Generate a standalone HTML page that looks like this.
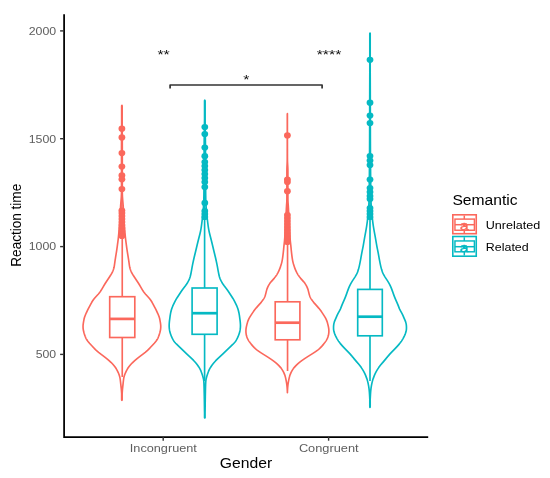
<!DOCTYPE html>
<html><head><meta charset="utf-8"><title>Reaction time by Gender and Semantic</title>
<style>html,body{margin:0;padding:0;background:#fff;}svg{display:block;}</style></head>
<body><svg width="550" height="478" viewBox="0 0 550 478" font-family="'Liberation Sans', sans-serif">
<rect width="550" height="478" fill="#fff"/>
<g><path d="M121.90,105.3 L122.15,105.8 L122.15,106.3 L122.15,106.8 L122.15,107.3 L122.15,107.8 L122.15,108.3 L122.15,108.8 L122.15,109.3 L122.15,109.8 L122.15,110.3 L122.15,110.8 L122.15,111.3 L122.15,111.8 L122.15,112.3 L122.15,112.8 L122.15,113.3 L122.15,113.8 L122.15,114.3 L122.15,114.8 L122.15,115.3 L122.15,115.8 L122.15,116.3 L122.15,116.8 L122.15,117.3 L122.15,117.8 L122.15,118.3 L122.15,118.8 L122.15,119.3 L122.15,119.8 L122.15,120.3 L122.15,120.8 L122.15,121.3 L122.15,121.8 L122.15,122.3 L122.15,122.8 L122.15,123.3 L122.15,123.8 L122.15,124.3 L122.15,124.8 L122.15,125.3 L122.16,125.8 L122.16,126.3 L122.17,126.8 L122.17,127.3 L122.18,127.8 L122.18,128.3 L122.19,128.8 L122.19,129.3 L122.20,129.8 L122.20,130.3 L122.21,130.8 L122.21,131.3 L122.21,131.8 L122.22,132.3 L122.22,132.8 L122.23,133.3 L122.23,133.8 L122.23,134.3 L122.24,134.8 L122.24,135.3 L122.25,135.8 L122.25,136.3 L122.25,136.8 L122.26,137.3 L122.26,137.8 L122.26,138.3 L122.27,138.8 L122.27,139.3 L122.27,139.8 L122.27,140.3 L122.28,140.8 L122.28,141.3 L122.28,141.8 L122.28,142.3 L122.28,142.8 L122.29,143.3 L122.29,143.8 L122.29,144.3 L122.29,144.8 L122.29,145.3 L122.29,145.8 L122.30,146.3 L122.30,146.8 L122.30,147.3 L122.30,147.8 L122.30,148.3 L122.30,148.8 L122.30,149.3 L122.30,149.8 L122.30,150.3 L122.30,150.8 L122.30,151.3 L122.30,151.8 L122.30,152.3 L122.30,152.8 L122.30,153.3 L122.30,153.8 L122.30,154.3 L122.30,154.8 L122.30,155.3 L122.30,155.8 L122.30,156.3 L122.30,156.8 L122.30,157.3 L122.30,157.8 L122.30,158.3 L122.30,158.8 L122.30,159.3 L122.30,159.8 L122.30,160.3 L122.30,160.8 L122.30,161.3 L122.30,161.8 L122.30,162.3 L122.30,162.8 L122.30,163.3 L122.30,163.8 L122.30,164.3 L122.30,164.8 L122.30,165.3 L122.30,165.8 L122.30,166.3 L122.30,166.8 L122.30,167.3 L122.30,167.8 L122.30,168.3 L122.30,168.8 L122.30,169.3 L122.30,169.8 L122.30,170.3 L122.30,170.8 L122.30,171.3 L122.30,171.8 L122.30,172.3 L122.30,172.8 L122.30,173.3 L122.30,173.8 L122.30,174.3 L122.30,174.8 L122.30,175.3 L122.30,175.8 L122.30,176.3 L122.30,176.8 L122.30,177.3 L122.30,177.8 L122.30,178.3 L122.30,178.8 L122.30,179.3 L122.30,179.8 L122.30,180.3 L122.30,180.8 L122.30,181.3 L122.30,181.8 L122.30,182.3 L122.30,182.8 L122.30,183.3 L122.30,183.8 L122.30,184.3 L122.30,184.8 L122.30,185.3 L122.30,185.8 L122.30,186.3 L122.30,186.8 L122.30,187.3 L122.30,187.8 L122.30,188.3 L122.30,188.8 L122.30,189.3 L122.30,189.8 L122.30,190.3 L122.31,190.8 L122.31,191.3 L122.31,191.8 L122.32,192.3 L122.32,192.8 L122.33,193.3 L122.34,193.8 L122.35,194.3 L122.37,194.8 L122.39,195.3 L122.41,195.8 L122.43,196.3 L122.46,196.8 L122.49,197.3 L122.53,197.8 L122.56,198.3 L122.60,198.8 L122.64,199.3 L122.68,199.8 L122.73,200.3 L122.77,200.8 L122.81,201.3 L122.85,201.8 L122.90,202.3 L122.94,202.8 L122.98,203.3 L123.02,203.8 L123.06,204.3 L123.10,204.8 L123.14,205.3 L123.17,205.8 L123.21,206.3 L123.24,206.8 L123.27,207.3 L123.30,207.8 L123.33,208.3 L123.35,208.8 L123.38,209.3 L123.41,209.8 L123.43,210.3 L123.45,210.8 L123.48,211.3 L123.50,211.8 L123.52,212.3 L123.54,212.8 L123.57,213.3 L123.59,213.8 L123.61,214.3 L123.63,214.8 L123.66,215.3 L123.68,215.8 L123.70,216.3 L123.73,216.8 L123.75,217.3 L123.78,217.8 L123.81,218.3 L123.84,218.8 L123.87,219.3 L123.90,219.8 L123.93,220.3 L123.96,220.8 L123.99,221.3 L124.03,221.8 L124.06,222.3 L124.10,222.8 L124.14,223.3 L124.18,223.8 L124.21,224.3 L124.25,224.8 L124.30,225.3 L124.34,225.8 L124.38,226.3 L124.42,226.8 L124.46,227.3 L124.51,227.8 L124.55,228.3 L124.59,228.8 L124.64,229.3 L124.68,229.8 L124.73,230.3 L124.77,230.8 L124.82,231.3 L124.86,231.8 L124.91,232.3 L124.96,232.8 L125.00,233.3 L125.05,233.8 L125.10,234.3 L125.15,234.8 L125.20,235.3 L125.25,235.8 L125.30,236.3 L125.35,236.8 L125.40,237.3 L125.46,237.8 L125.51,238.3 L125.57,238.8 L125.63,239.3 L125.69,239.8 L125.75,240.3 L125.81,240.8 L125.88,241.3 L125.94,241.8 L126.01,242.3 L126.08,242.8 L126.15,243.3 L126.21,243.8 L126.28,244.3 L126.35,244.8 L126.41,245.3 L126.48,245.8 L126.55,246.3 L126.61,246.8 L126.68,247.3 L126.75,247.8 L126.82,248.3 L126.89,248.8 L126.96,249.3 L127.04,249.8 L127.11,250.3 L127.19,250.8 L127.26,251.3 L127.34,251.8 L127.42,252.3 L127.50,252.8 L127.58,253.3 L127.66,253.8 L127.74,254.3 L127.82,254.8 L127.91,255.3 L127.99,255.8 L128.07,256.3 L128.15,256.8 L128.23,257.3 L128.30,257.8 L128.38,258.3 L128.46,258.8 L128.54,259.3 L128.62,259.8 L128.70,260.3 L128.77,260.8 L128.84,261.3 L128.92,261.8 L128.98,262.3 L129.05,262.8 L129.12,263.3 L129.19,263.8 L129.26,264.3 L129.32,264.8 L129.40,265.3 L129.48,265.8 L129.56,266.3 L129.65,266.8 L129.75,267.3 L129.87,267.8 L129.99,268.3 L130.13,268.8 L130.28,269.3 L130.45,269.8 L130.63,270.3 L130.84,270.8 L131.05,271.3 L131.29,271.8 L131.54,272.3 L131.80,272.8 L132.07,273.3 L132.35,273.8 L132.64,274.3 L132.94,274.8 L133.24,275.3 L133.55,275.8 L133.86,276.3 L134.18,276.8 L134.50,277.3 L134.83,277.8 L135.16,278.3 L135.49,278.8 L135.82,279.3 L136.15,279.8 L136.48,280.3 L136.82,280.8 L137.15,281.3 L137.48,281.8 L137.81,282.3 L138.14,282.8 L138.46,283.3 L138.78,283.8 L139.09,284.3 L139.40,284.8 L139.71,285.3 L140.01,285.8 L140.32,286.3 L140.62,286.8 L140.91,287.3 L141.21,287.8 L141.50,288.3 L141.79,288.8 L142.08,289.3 L142.38,289.8 L142.68,290.3 L142.99,290.8 L143.31,291.3 L143.65,291.8 L144.01,292.3 L144.39,292.8 L144.79,293.3 L145.20,293.8 L145.63,294.3 L146.08,294.8 L146.53,295.3 L146.99,295.8 L147.45,296.3 L147.91,296.8 L148.36,297.3 L148.80,297.8 L149.23,298.3 L149.64,298.8 L150.03,299.3 L150.41,299.8 L150.76,300.3 L151.10,300.8 L151.43,301.3 L151.74,301.8 L152.05,302.3 L152.34,302.8 L152.62,303.3 L152.90,303.8 L153.17,304.3 L153.44,304.8 L153.70,305.3 L153.96,305.8 L154.23,306.3 L154.50,306.8 L154.77,307.3 L155.04,307.8 L155.31,308.3 L155.57,308.8 L155.82,309.3 L156.07,309.8 L156.31,310.3 L156.55,310.8 L156.78,311.3 L157.01,311.8 L157.24,312.3 L157.46,312.8 L157.68,313.3 L157.89,313.8 L158.10,314.3 L158.31,314.8 L158.51,315.3 L158.70,315.8 L158.90,316.3 L159.08,316.8 L159.25,317.3 L159.41,317.8 L159.55,318.3 L159.68,318.8 L159.79,319.3 L159.89,319.8 L159.99,320.3 L160.08,320.8 L160.17,321.3 L160.26,321.8 L160.34,322.3 L160.42,322.8 L160.49,323.3 L160.56,323.8 L160.62,324.3 L160.67,324.8 L160.71,325.3 L160.74,325.8 L160.75,326.3 L160.75,326.8 L160.74,327.3 L160.72,327.8 L160.68,328.3 L160.63,328.8 L160.56,329.3 L160.48,329.8 L160.39,330.3 L160.29,330.8 L160.18,331.3 L160.06,331.8 L159.94,332.3 L159.80,332.8 L159.67,333.3 L159.52,333.8 L159.37,334.3 L159.21,334.8 L159.04,335.3 L158.86,335.8 L158.67,336.3 L158.46,336.8 L158.25,337.3 L158.02,337.8 L157.78,338.3 L157.52,338.8 L157.24,339.3 L156.95,339.8 L156.63,340.3 L156.30,340.8 L155.94,341.3 L155.56,341.8 L155.15,342.3 L154.73,342.8 L154.30,343.3 L153.85,343.8 L153.39,344.3 L152.92,344.8 L152.45,345.3 L151.98,345.8 L151.50,346.3 L151.02,346.8 L150.55,347.3 L150.06,347.8 L149.58,348.3 L149.08,348.8 L148.57,349.3 L148.05,349.8 L147.52,350.3 L146.96,350.8 L146.39,351.3 L145.80,351.8 L145.20,352.3 L144.57,352.8 L143.93,353.3 L143.28,353.8 L142.62,354.3 L141.95,354.8 L141.28,355.3 L140.62,355.8 L139.96,356.3 L139.31,356.8 L138.66,357.3 L138.03,357.8 L137.40,358.3 L136.79,358.8 L136.19,359.3 L135.60,359.8 L135.02,360.3 L134.46,360.8 L133.92,361.3 L133.39,361.8 L132.87,362.3 L132.37,362.8 L131.89,363.3 L131.42,363.8 L130.97,364.3 L130.53,364.8 L130.11,365.3 L129.70,365.8 L129.30,366.3 L128.91,366.8 L128.54,367.3 L128.18,367.8 L127.84,368.3 L127.52,368.8 L127.22,369.3 L126.94,369.8 L126.66,370.3 L126.40,370.8 L126.16,371.3 L125.92,371.8 L125.70,372.3 L125.48,372.8 L125.27,373.3 L125.07,373.8 L124.89,374.3 L124.70,374.8 L124.53,375.3 L124.37,375.8 L124.22,376.3 L124.07,376.8 L123.94,377.3 L123.83,377.8 L123.73,378.3 L123.65,378.8 L123.58,379.3 L123.51,379.8 L123.45,380.3 L123.39,380.8 L123.33,381.3 L123.28,381.8 L123.22,382.3 L123.17,382.8 L123.12,383.3 L123.06,383.8 L123.01,384.3 L122.96,384.8 L122.90,385.3 L122.85,385.8 L122.79,386.3 L122.73,386.8 L122.68,387.3 L122.62,387.8 L122.57,388.3 L122.52,388.8 L122.48,389.3 L122.43,389.8 L122.39,390.3 L122.35,390.8 L122.32,391.3 L122.28,391.8 L122.25,392.3 L122.21,392.8 L122.18,393.3 L122.15,393.8 L122.15,394.3 L122.15,394.8 L122.15,395.3 L122.15,395.8 L122.15,396.3 L122.15,396.8 L122.15,397.3 L122.15,397.8 L122.15,398.3 L122.15,398.8 L122.15,399.3 L122.15,399.8 L121.90,400.3 L121.90,400.3 L121.65,399.8 L121.65,399.3 L121.65,398.8 L121.65,398.3 L121.65,397.8 L121.65,397.3 L121.65,396.8 L121.65,396.3 L121.65,395.8 L121.65,395.3 L121.65,394.8 L121.65,394.3 L121.65,393.8 L121.62,393.3 L121.59,392.8 L121.55,392.3 L121.52,391.8 L121.48,391.3 L121.45,390.8 L121.41,390.3 L121.37,389.8 L121.32,389.3 L121.28,388.8 L121.23,388.3 L121.18,387.8 L121.12,387.3 L121.07,386.8 L121.01,386.3 L120.95,385.8 L120.90,385.3 L120.84,384.8 L120.79,384.3 L120.74,383.8 L120.68,383.3 L120.63,382.8 L120.58,382.3 L120.52,381.8 L120.47,381.3 L120.41,380.8 L120.35,380.3 L120.29,379.8 L120.22,379.3 L120.15,378.8 L120.07,378.3 L119.97,377.8 L119.86,377.3 L119.73,376.8 L119.58,376.3 L119.43,375.8 L119.27,375.3 L119.10,374.8 L118.91,374.3 L118.73,373.8 L118.53,373.3 L118.32,372.8 L118.10,372.3 L117.88,371.8 L117.64,371.3 L117.40,370.8 L117.14,370.3 L116.86,369.8 L116.58,369.3 L116.28,368.8 L115.96,368.3 L115.62,367.8 L115.26,367.3 L114.89,366.8 L114.50,366.3 L114.10,365.8 L113.69,365.3 L113.27,364.8 L112.83,364.3 L112.38,363.8 L111.91,363.3 L111.43,362.8 L110.93,362.3 L110.41,361.8 L109.88,361.3 L109.34,360.8 L108.78,360.3 L108.20,359.8 L107.61,359.3 L107.01,358.8 L106.40,358.3 L105.77,357.8 L105.14,357.3 L104.49,356.8 L103.84,356.3 L103.18,355.8 L102.52,355.3 L101.85,354.8 L101.18,354.3 L100.52,353.8 L99.87,353.3 L99.23,352.8 L98.60,352.3 L98.00,351.8 L97.41,351.3 L96.84,350.8 L96.28,350.3 L95.75,349.8 L95.23,349.3 L94.72,348.8 L94.22,348.3 L93.74,347.8 L93.25,347.3 L92.78,346.8 L92.30,346.3 L91.82,345.8 L91.35,345.3 L90.88,344.8 L90.41,344.3 L89.95,343.8 L89.50,343.3 L89.07,342.8 L88.65,342.3 L88.24,341.8 L87.86,341.3 L87.50,340.8 L87.17,340.3 L86.85,339.8 L86.56,339.3 L86.28,338.8 L86.02,338.3 L85.78,337.8 L85.55,337.3 L85.34,336.8 L85.13,336.3 L84.94,335.8 L84.76,335.3 L84.59,334.8 L84.43,334.3 L84.28,333.8 L84.13,333.3 L84.00,332.8 L83.86,332.3 L83.74,331.8 L83.62,331.3 L83.51,330.8 L83.41,330.3 L83.32,329.8 L83.24,329.3 L83.17,328.8 L83.12,328.3 L83.08,327.8 L83.06,327.3 L83.05,326.8 L83.05,326.3 L83.06,325.8 L83.09,325.3 L83.13,324.8 L83.18,324.3 L83.24,323.8 L83.31,323.3 L83.38,322.8 L83.46,322.3 L83.54,321.8 L83.63,321.3 L83.72,320.8 L83.81,320.3 L83.91,319.8 L84.01,319.3 L84.12,318.8 L84.25,318.3 L84.39,317.8 L84.55,317.3 L84.72,316.8 L84.90,316.3 L85.10,315.8 L85.29,315.3 L85.49,314.8 L85.70,314.3 L85.91,313.8 L86.12,313.3 L86.34,312.8 L86.56,312.3 L86.79,311.8 L87.02,311.3 L87.25,310.8 L87.49,310.3 L87.73,309.8 L87.98,309.3 L88.23,308.8 L88.49,308.3 L88.76,307.8 L89.03,307.3 L89.30,306.8 L89.57,306.3 L89.84,305.8 L90.10,305.3 L90.36,304.8 L90.63,304.3 L90.90,303.8 L91.18,303.3 L91.46,302.8 L91.75,302.3 L92.06,301.8 L92.37,301.3 L92.70,300.8 L93.04,300.3 L93.39,299.8 L93.77,299.3 L94.16,298.8 L94.57,298.3 L95.00,297.8 L95.44,297.3 L95.89,296.8 L96.35,296.3 L96.81,295.8 L97.27,295.3 L97.72,294.8 L98.17,294.3 L98.60,293.8 L99.01,293.3 L99.41,292.8 L99.79,292.3 L100.15,291.8 L100.49,291.3 L100.81,290.8 L101.12,290.3 L101.42,289.8 L101.72,289.3 L102.01,288.8 L102.30,288.3 L102.59,287.8 L102.89,287.3 L103.18,286.8 L103.48,286.3 L103.79,285.8 L104.09,285.3 L104.40,284.8 L104.71,284.3 L105.02,283.8 L105.34,283.3 L105.66,282.8 L105.99,282.3 L106.32,281.8 L106.65,281.3 L106.98,280.8 L107.32,280.3 L107.65,279.8 L107.98,279.3 L108.31,278.8 L108.64,278.3 L108.97,277.8 L109.30,277.3 L109.62,276.8 L109.94,276.3 L110.25,275.8 L110.56,275.3 L110.86,274.8 L111.16,274.3 L111.45,273.8 L111.73,273.3 L112.00,272.8 L112.26,272.3 L112.51,271.8 L112.75,271.3 L112.96,270.8 L113.17,270.3 L113.35,269.8 L113.52,269.3 L113.67,268.8 L113.81,268.3 L113.93,267.8 L114.05,267.3 L114.15,266.8 L114.24,266.3 L114.32,265.8 L114.40,265.3 L114.48,264.8 L114.54,264.3 L114.61,263.8 L114.68,263.3 L114.75,262.8 L114.82,262.3 L114.88,261.8 L114.96,261.3 L115.03,260.8 L115.10,260.3 L115.18,259.8 L115.26,259.3 L115.34,258.8 L115.42,258.3 L115.50,257.8 L115.57,257.3 L115.65,256.8 L115.73,256.3 L115.81,255.8 L115.89,255.3 L115.98,254.8 L116.06,254.3 L116.14,253.8 L116.22,253.3 L116.30,252.8 L116.38,252.3 L116.46,251.8 L116.54,251.3 L116.61,250.8 L116.69,250.3 L116.76,249.8 L116.84,249.3 L116.91,248.8 L116.98,248.3 L117.05,247.8 L117.12,247.3 L117.19,246.8 L117.25,246.3 L117.32,245.8 L117.39,245.3 L117.45,244.8 L117.52,244.3 L117.59,243.8 L117.65,243.3 L117.72,242.8 L117.79,242.3 L117.86,241.8 L117.92,241.3 L117.99,240.8 L118.05,240.3 L118.11,239.8 L118.17,239.3 L118.23,238.8 L118.29,238.3 L118.34,237.8 L118.40,237.3 L118.45,236.8 L118.50,236.3 L118.55,235.8 L118.60,235.3 L118.65,234.8 L118.70,234.3 L118.75,233.8 L118.80,233.3 L118.84,232.8 L118.89,232.3 L118.94,231.8 L118.98,231.3 L119.03,230.8 L119.07,230.3 L119.12,229.8 L119.16,229.3 L119.21,228.8 L119.25,228.3 L119.29,227.8 L119.34,227.3 L119.38,226.8 L119.42,226.3 L119.46,225.8 L119.50,225.3 L119.55,224.8 L119.59,224.3 L119.62,223.8 L119.66,223.3 L119.70,222.8 L119.74,222.3 L119.77,221.8 L119.81,221.3 L119.84,220.8 L119.87,220.3 L119.90,219.8 L119.93,219.3 L119.96,218.8 L119.99,218.3 L120.02,217.8 L120.05,217.3 L120.07,216.8 L120.10,216.3 L120.12,215.8 L120.14,215.3 L120.17,214.8 L120.19,214.3 L120.21,213.8 L120.23,213.3 L120.26,212.8 L120.28,212.3 L120.30,211.8 L120.32,211.3 L120.35,210.8 L120.37,210.3 L120.39,209.8 L120.42,209.3 L120.45,208.8 L120.47,208.3 L120.50,207.8 L120.53,207.3 L120.56,206.8 L120.59,206.3 L120.63,205.8 L120.66,205.3 L120.70,204.8 L120.74,204.3 L120.78,203.8 L120.82,203.3 L120.86,202.8 L120.90,202.3 L120.95,201.8 L120.99,201.3 L121.03,200.8 L121.07,200.3 L121.12,199.8 L121.16,199.3 L121.20,198.8 L121.24,198.3 L121.27,197.8 L121.31,197.3 L121.34,196.8 L121.37,196.3 L121.39,195.8 L121.41,195.3 L121.43,194.8 L121.45,194.3 L121.46,193.8 L121.47,193.3 L121.48,192.8 L121.48,192.3 L121.49,191.8 L121.49,191.3 L121.49,190.8 L121.50,190.3 L121.50,189.8 L121.50,189.3 L121.50,188.8 L121.50,188.3 L121.50,187.8 L121.50,187.3 L121.50,186.8 L121.50,186.3 L121.50,185.8 L121.50,185.3 L121.50,184.8 L121.50,184.3 L121.50,183.8 L121.50,183.3 L121.50,182.8 L121.50,182.3 L121.50,181.8 L121.50,181.3 L121.50,180.8 L121.50,180.3 L121.50,179.8 L121.50,179.3 L121.50,178.8 L121.50,178.3 L121.50,177.8 L121.50,177.3 L121.50,176.8 L121.50,176.3 L121.50,175.8 L121.50,175.3 L121.50,174.8 L121.50,174.3 L121.50,173.8 L121.50,173.3 L121.50,172.8 L121.50,172.3 L121.50,171.8 L121.50,171.3 L121.50,170.8 L121.50,170.3 L121.50,169.8 L121.50,169.3 L121.50,168.8 L121.50,168.3 L121.50,167.8 L121.50,167.3 L121.50,166.8 L121.50,166.3 L121.50,165.8 L121.50,165.3 L121.50,164.8 L121.50,164.3 L121.50,163.8 L121.50,163.3 L121.50,162.8 L121.50,162.3 L121.50,161.8 L121.50,161.3 L121.50,160.8 L121.50,160.3 L121.50,159.8 L121.50,159.3 L121.50,158.8 L121.50,158.3 L121.50,157.8 L121.50,157.3 L121.50,156.8 L121.50,156.3 L121.50,155.8 L121.50,155.3 L121.50,154.8 L121.50,154.3 L121.50,153.8 L121.50,153.3 L121.50,152.8 L121.50,152.3 L121.50,151.8 L121.50,151.3 L121.50,150.8 L121.50,150.3 L121.50,149.8 L121.50,149.3 L121.50,148.8 L121.50,148.3 L121.50,147.8 L121.50,147.3 L121.50,146.8 L121.50,146.3 L121.51,145.8 L121.51,145.3 L121.51,144.8 L121.51,144.3 L121.51,143.8 L121.51,143.3 L121.52,142.8 L121.52,142.3 L121.52,141.8 L121.52,141.3 L121.52,140.8 L121.53,140.3 L121.53,139.8 L121.53,139.3 L121.53,138.8 L121.54,138.3 L121.54,137.8 L121.54,137.3 L121.55,136.8 L121.55,136.3 L121.55,135.8 L121.56,135.3 L121.56,134.8 L121.57,134.3 L121.57,133.8 L121.57,133.3 L121.58,132.8 L121.58,132.3 L121.59,131.8 L121.59,131.3 L121.59,130.8 L121.60,130.3 L121.60,129.8 L121.61,129.3 L121.61,128.8 L121.62,128.3 L121.62,127.8 L121.63,127.3 L121.63,126.8 L121.64,126.3 L121.64,125.8 L121.65,125.3 L121.65,124.8 L121.65,124.3 L121.65,123.8 L121.65,123.3 L121.65,122.8 L121.65,122.3 L121.65,121.8 L121.65,121.3 L121.65,120.8 L121.65,120.3 L121.65,119.8 L121.65,119.3 L121.65,118.8 L121.65,118.3 L121.65,117.8 L121.65,117.3 L121.65,116.8 L121.65,116.3 L121.65,115.8 L121.65,115.3 L121.65,114.8 L121.65,114.3 L121.65,113.8 L121.65,113.3 L121.65,112.8 L121.65,112.3 L121.65,111.8 L121.65,111.3 L121.65,110.8 L121.65,110.3 L121.65,109.8 L121.65,109.3 L121.65,108.8 L121.65,108.3 L121.65,107.8 L121.65,107.3 L121.65,106.8 L121.65,106.3 L121.65,105.8 L121.90,105.3Z" fill="none" stroke="#FB685C" stroke-width="1.65" stroke-linejoin="round"/><path d="M121.9,105.8V236" stroke="#FB685C" stroke-width="1.6" fill="none"/><ellipse cx="121.9" cy="128.7" rx="3.4" ry="3.1" fill="#FB685C"/><ellipse cx="121.9" cy="137.4" rx="3.4" ry="3.1" fill="#FB685C"/><ellipse cx="121.9" cy="153.1" rx="3.4" ry="3.1" fill="#FB685C"/><ellipse cx="121.9" cy="166.5" rx="3.4" ry="3.1" fill="#FB685C"/><ellipse cx="121.9" cy="175.4" rx="3.4" ry="3.1" fill="#FB685C"/><ellipse cx="121.9" cy="179.3" rx="3.4" ry="3.1" fill="#FB685C"/><ellipse cx="121.9" cy="189" rx="3.4" ry="3.1" fill="#FB685C"/><ellipse cx="121.9" cy="210.5" rx="3.4" ry="3.1" fill="#FB685C"/><ellipse cx="121.9" cy="213" rx="3.4" ry="3.1" fill="#FB685C"/><ellipse cx="121.9" cy="216" rx="3.4" ry="3.1" fill="#FB685C"/><ellipse cx="121.9" cy="219" rx="3.4" ry="3.1" fill="#FB685C"/><ellipse cx="121.9" cy="222" rx="3.4" ry="3.1" fill="#FB685C"/><ellipse cx="121.9" cy="225" rx="3.4" ry="3.1" fill="#FB685C"/><ellipse cx="121.9" cy="228" rx="3.4" ry="3.1" fill="#FB685C"/><ellipse cx="121.9" cy="231" rx="3.4" ry="3.1" fill="#FB685C"/><ellipse cx="121.9" cy="234" rx="3.4" ry="3.1" fill="#FB685C"/><ellipse cx="121.9" cy="236" rx="3.4" ry="3.1" fill="#FB685C"/><path d="M122.25,235V296.7M122.25,337.5V377" stroke="#FB685C" stroke-width="1.65" fill="none"/><rect x="109.7" y="296.7" width="25.1" height="40.8" fill="#fff" stroke="#FB685C" stroke-width="1.65"/><path d="M109.7,318.9H134.8" stroke="#FB685C" stroke-width="2.7" fill="none"/><path d="M204.80,100.2 L205.05,100.7 L205.05,101.2 L205.05,101.7 L205.05,102.2 L205.05,102.7 L205.05,103.2 L205.05,103.7 L205.05,104.2 L205.05,104.7 L205.05,105.2 L205.05,105.7 L205.05,106.2 L205.05,106.7 L205.05,107.2 L205.05,107.7 L205.05,108.2 L205.05,108.7 L205.05,109.2 L205.05,109.7 L205.05,110.2 L205.05,110.7 L205.05,111.2 L205.05,111.7 L205.05,112.2 L205.05,112.7 L205.05,113.2 L205.05,113.7 L205.05,114.2 L205.05,114.7 L205.05,115.2 L205.05,115.7 L205.05,116.2 L205.05,116.7 L205.05,117.2 L205.05,117.7 L205.05,118.2 L205.05,118.7 L205.06,119.2 L205.07,119.7 L205.08,120.2 L205.08,120.7 L205.09,121.2 L205.10,121.7 L205.11,122.2 L205.12,122.7 L205.12,123.2 L205.13,123.7 L205.14,124.2 L205.15,124.7 L205.15,125.2 L205.16,125.7 L205.17,126.2 L205.18,126.7 L205.19,127.2 L205.20,127.7 L205.21,128.2 L205.22,128.7 L205.22,129.2 L205.23,129.7 L205.24,130.2 L205.25,130.7 L205.26,131.2 L205.27,131.7 L205.28,132.2 L205.29,132.7 L205.30,133.2 L205.31,133.7 L205.32,134.2 L205.33,134.7 L205.33,135.2 L205.34,135.7 L205.35,136.2 L205.36,136.7 L205.37,137.2 L205.37,137.7 L205.38,138.2 L205.38,138.7 L205.39,139.2 L205.39,139.7 L205.40,140.2 L205.40,140.7 L205.41,141.2 L205.41,141.7 L205.42,142.2 L205.42,142.7 L205.42,143.2 L205.43,143.7 L205.43,144.2 L205.44,144.7 L205.44,145.2 L205.44,145.7 L205.44,146.2 L205.45,146.7 L205.45,147.2 L205.45,147.7 L205.46,148.2 L205.46,148.7 L205.46,149.2 L205.47,149.7 L205.47,150.2 L205.47,150.7 L205.47,151.2 L205.48,151.7 L205.48,152.2 L205.48,152.7 L205.48,153.2 L205.48,153.7 L205.49,154.2 L205.49,154.7 L205.49,155.2 L205.49,155.7 L205.49,156.2 L205.50,156.7 L205.50,157.2 L205.50,157.7 L205.50,158.2 L205.50,158.7 L205.51,159.2 L205.51,159.7 L205.51,160.2 L205.51,160.7 L205.51,161.2 L205.51,161.7 L205.52,162.2 L205.52,162.7 L205.52,163.2 L205.52,163.7 L205.52,164.2 L205.52,164.7 L205.53,165.2 L205.53,165.7 L205.53,166.2 L205.53,166.7 L205.53,167.2 L205.53,167.7 L205.54,168.2 L205.54,168.7 L205.54,169.2 L205.54,169.7 L205.54,170.2 L205.54,170.7 L205.55,171.2 L205.55,171.7 L205.55,172.2 L205.55,172.7 L205.55,173.2 L205.56,173.7 L205.56,174.2 L205.56,174.7 L205.56,175.2 L205.56,175.7 L205.57,176.2 L205.57,176.7 L205.57,177.2 L205.57,177.7 L205.58,178.2 L205.58,178.7 L205.58,179.2 L205.58,179.7 L205.59,180.2 L205.59,180.7 L205.59,181.2 L205.59,181.7 L205.60,182.2 L205.60,182.7 L205.60,183.2 L205.60,183.7 L205.61,184.2 L205.61,184.7 L205.61,185.2 L205.62,185.7 L205.62,186.2 L205.62,186.7 L205.63,187.2 L205.63,187.7 L205.64,188.2 L205.64,188.7 L205.64,189.2 L205.65,189.7 L205.65,190.2 L205.66,190.7 L205.66,191.2 L205.67,191.7 L205.67,192.2 L205.68,192.7 L205.68,193.2 L205.69,193.7 L205.70,194.2 L205.70,194.7 L205.71,195.2 L205.72,195.7 L205.73,196.2 L205.74,196.7 L205.74,197.2 L205.75,197.7 L205.76,198.2 L205.78,198.7 L205.79,199.2 L205.80,199.7 L205.81,200.2 L205.83,200.7 L205.85,201.2 L205.86,201.7 L205.88,202.2 L205.90,202.7 L205.93,203.2 L205.95,203.7 L205.98,204.2 L206.00,204.7 L206.03,205.2 L206.06,205.7 L206.09,206.2 L206.13,206.7 L206.16,207.2 L206.20,207.7 L206.23,208.2 L206.27,208.7 L206.31,209.2 L206.35,209.7 L206.39,210.2 L206.43,210.7 L206.47,211.2 L206.51,211.7 L206.55,212.2 L206.59,212.7 L206.64,213.2 L206.68,213.7 L206.73,214.2 L206.78,214.7 L206.83,215.2 L206.89,215.7 L206.94,216.2 L207.00,216.7 L207.06,217.2 L207.12,217.7 L207.18,218.2 L207.24,218.7 L207.30,219.2 L207.36,219.7 L207.42,220.2 L207.48,220.7 L207.54,221.2 L207.61,221.7 L207.67,222.2 L207.73,222.7 L207.79,223.2 L207.86,223.7 L207.92,224.2 L207.99,224.7 L208.05,225.2 L208.12,225.7 L208.19,226.2 L208.26,226.7 L208.33,227.2 L208.41,227.7 L208.49,228.2 L208.57,228.7 L208.66,229.2 L208.75,229.7 L208.85,230.2 L208.95,230.7 L209.06,231.2 L209.17,231.7 L209.28,232.2 L209.40,232.7 L209.52,233.2 L209.64,233.7 L209.76,234.2 L209.89,234.7 L210.01,235.2 L210.14,235.7 L210.27,236.2 L210.40,236.7 L210.53,237.2 L210.66,237.7 L210.79,238.2 L210.92,238.7 L211.04,239.2 L211.17,239.7 L211.30,240.2 L211.42,240.7 L211.55,241.2 L211.67,241.7 L211.80,242.2 L211.92,242.7 L212.04,243.2 L212.16,243.7 L212.28,244.2 L212.40,244.7 L212.52,245.2 L212.64,245.7 L212.76,246.2 L212.88,246.7 L213.00,247.2 L213.11,247.7 L213.23,248.2 L213.35,248.7 L213.47,249.2 L213.59,249.7 L213.71,250.2 L213.83,250.7 L213.95,251.2 L214.07,251.7 L214.19,252.2 L214.31,252.7 L214.44,253.2 L214.56,253.7 L214.68,254.2 L214.80,254.7 L214.92,255.2 L215.04,255.7 L215.16,256.2 L215.29,256.7 L215.41,257.2 L215.52,257.7 L215.64,258.2 L215.75,258.7 L215.86,259.2 L215.97,259.7 L216.08,260.2 L216.19,260.7 L216.29,261.2 L216.40,261.7 L216.50,262.2 L216.61,262.7 L216.71,263.2 L216.81,263.7 L216.91,264.2 L217.01,264.7 L217.11,265.2 L217.21,265.7 L217.30,266.2 L217.40,266.7 L217.49,267.2 L217.58,267.7 L217.67,268.2 L217.75,268.7 L217.84,269.2 L217.93,269.7 L218.02,270.2 L218.11,270.7 L218.20,271.2 L218.30,271.7 L218.40,272.2 L218.50,272.7 L218.60,273.2 L218.71,273.7 L218.82,274.2 L218.93,274.7 L219.05,275.2 L219.17,275.7 L219.30,276.2 L219.43,276.7 L219.58,277.2 L219.74,277.7 L219.90,278.2 L220.09,278.7 L220.28,279.2 L220.50,279.7 L220.73,280.2 L220.98,280.7 L221.25,281.2 L221.53,281.7 L221.82,282.2 L222.13,282.7 L222.44,283.2 L222.77,283.7 L223.10,284.2 L223.45,284.7 L223.80,285.2 L224.16,285.7 L224.54,286.2 L224.91,286.7 L225.29,287.2 L225.68,287.7 L226.06,288.2 L226.44,288.7 L226.81,289.2 L227.18,289.7 L227.54,290.2 L227.89,290.7 L228.23,291.2 L228.57,291.7 L228.90,292.2 L229.22,292.7 L229.55,293.2 L229.87,293.7 L230.20,294.2 L230.53,294.7 L230.86,295.2 L231.19,295.7 L231.52,296.2 L231.85,296.7 L232.16,297.2 L232.47,297.7 L232.78,298.2 L233.08,298.7 L233.37,299.2 L233.65,299.7 L233.92,300.2 L234.19,300.7 L234.45,301.2 L234.71,301.7 L234.96,302.2 L235.20,302.7 L235.45,303.2 L235.69,303.7 L235.94,304.2 L236.18,304.7 L236.43,305.2 L236.66,305.7 L236.89,306.2 L237.10,306.7 L237.30,307.2 L237.49,307.7 L237.68,308.2 L237.85,308.7 L238.01,309.2 L238.17,309.7 L238.31,310.2 L238.44,310.7 L238.56,311.2 L238.68,311.7 L238.79,312.2 L238.89,312.7 L238.99,313.2 L239.09,313.7 L239.17,314.2 L239.26,314.7 L239.34,315.2 L239.42,315.7 L239.49,316.2 L239.56,316.7 L239.62,317.2 L239.69,317.7 L239.75,318.2 L239.82,318.7 L239.89,319.2 L239.96,319.7 L240.02,320.2 L240.09,320.7 L240.15,321.2 L240.20,321.7 L240.25,322.2 L240.30,322.7 L240.34,323.2 L240.37,323.7 L240.40,324.2 L240.42,324.7 L240.44,325.2 L240.44,325.7 L240.43,326.2 L240.42,326.7 L240.39,327.2 L240.36,327.7 L240.32,328.2 L240.27,328.7 L240.21,329.2 L240.13,329.7 L240.05,330.2 L239.96,330.7 L239.85,331.2 L239.73,331.7 L239.60,332.2 L239.46,332.7 L239.31,333.2 L239.15,333.7 L238.98,334.2 L238.80,334.7 L238.62,335.2 L238.43,335.7 L238.23,336.2 L238.02,336.7 L237.81,337.2 L237.58,337.7 L237.35,338.2 L237.10,338.7 L236.83,339.2 L236.55,339.7 L236.25,340.2 L235.93,340.7 L235.58,341.2 L235.21,341.7 L234.81,342.2 L234.38,342.7 L233.94,343.2 L233.47,343.7 L232.99,344.2 L232.49,344.7 L231.99,345.2 L231.48,345.7 L230.97,346.2 L230.46,346.7 L229.94,347.2 L229.42,347.7 L228.90,348.2 L228.38,348.7 L227.86,349.2 L227.33,349.7 L226.81,350.2 L226.29,350.7 L225.77,351.2 L225.25,351.7 L224.74,352.2 L224.22,352.7 L223.71,353.2 L223.19,353.7 L222.66,354.2 L222.12,354.7 L221.58,355.2 L221.04,355.7 L220.50,356.2 L219.96,356.7 L219.42,357.2 L218.88,357.7 L218.35,358.2 L217.82,358.7 L217.30,359.2 L216.78,359.7 L216.27,360.2 L215.77,360.7 L215.29,361.2 L214.82,361.7 L214.36,362.2 L213.93,362.7 L213.50,363.2 L213.10,363.7 L212.71,364.2 L212.33,364.7 L211.97,365.2 L211.62,365.7 L211.29,366.2 L210.97,366.7 L210.66,367.2 L210.36,367.7 L210.07,368.2 L209.79,368.7 L209.53,369.2 L209.27,369.7 L209.03,370.2 L208.81,370.7 L208.59,371.2 L208.39,371.7 L208.20,372.2 L208.01,372.7 L207.83,373.2 L207.65,373.7 L207.48,374.2 L207.31,374.7 L207.15,375.2 L206.99,375.7 L206.83,376.2 L206.69,376.7 L206.55,377.2 L206.42,377.7 L206.30,378.2 L206.19,378.7 L206.09,379.2 L206.01,379.7 L205.93,380.2 L205.87,380.7 L205.81,381.2 L205.77,381.7 L205.73,382.2 L205.70,382.7 L205.67,383.2 L205.64,383.7 L205.62,384.2 L205.60,384.7 L205.59,385.2 L205.57,385.7 L205.55,386.2 L205.54,386.7 L205.52,387.2 L205.51,387.7 L205.49,388.2 L205.48,388.7 L205.47,389.2 L205.46,389.7 L205.44,390.2 L205.43,390.7 L205.42,391.2 L205.41,391.7 L205.40,392.2 L205.39,392.7 L205.37,393.2 L205.36,393.7 L205.35,394.2 L205.34,394.7 L205.33,395.2 L205.32,395.7 L205.31,396.2 L205.30,396.7 L205.30,397.2 L205.29,397.7 L205.28,398.2 L205.27,398.7 L205.26,399.2 L205.25,399.7 L205.25,400.2 L205.24,400.7 L205.23,401.2 L205.22,401.7 L205.21,402.2 L205.21,402.7 L205.20,403.2 L205.19,403.7 L205.18,404.2 L205.18,404.7 L205.17,405.2 L205.16,405.7 L205.16,406.2 L205.15,406.7 L205.14,407.2 L205.14,407.7 L205.13,408.2 L205.12,408.7 L205.12,409.2 L205.11,409.7 L205.10,410.2 L205.09,410.7 L205.08,411.2 L205.07,411.7 L205.06,412.2 L205.05,412.7 L205.05,413.2 L205.05,413.7 L205.05,414.2 L205.05,414.7 L205.05,415.2 L205.05,415.7 L205.05,416.2 L205.05,416.7 L205.05,417.2 L205.05,417.7 L204.80,418.0 L204.80,418.0 L204.55,417.7 L204.55,417.2 L204.55,416.7 L204.55,416.2 L204.55,415.7 L204.55,415.2 L204.55,414.7 L204.55,414.2 L204.55,413.7 L204.55,413.2 L204.55,412.7 L204.54,412.2 L204.53,411.7 L204.52,411.2 L204.51,410.7 L204.50,410.2 L204.49,409.7 L204.48,409.2 L204.48,408.7 L204.47,408.2 L204.46,407.7 L204.46,407.2 L204.45,406.7 L204.44,406.2 L204.44,405.7 L204.43,405.2 L204.42,404.7 L204.42,404.2 L204.41,403.7 L204.40,403.2 L204.39,402.7 L204.39,402.2 L204.38,401.7 L204.37,401.2 L204.36,400.7 L204.35,400.2 L204.35,399.7 L204.34,399.2 L204.33,398.7 L204.32,398.2 L204.31,397.7 L204.30,397.2 L204.30,396.7 L204.29,396.2 L204.28,395.7 L204.27,395.2 L204.26,394.7 L204.25,394.2 L204.24,393.7 L204.23,393.2 L204.21,392.7 L204.20,392.2 L204.19,391.7 L204.18,391.2 L204.17,390.7 L204.16,390.2 L204.14,389.7 L204.13,389.2 L204.12,388.7 L204.11,388.2 L204.09,387.7 L204.08,387.2 L204.06,386.7 L204.05,386.2 L204.03,385.7 L204.01,385.2 L204.00,384.7 L203.98,384.2 L203.96,383.7 L203.93,383.2 L203.90,382.7 L203.87,382.2 L203.83,381.7 L203.79,381.2 L203.73,380.7 L203.67,380.2 L203.59,379.7 L203.51,379.2 L203.41,378.7 L203.30,378.2 L203.18,377.7 L203.05,377.2 L202.91,376.7 L202.77,376.2 L202.61,375.7 L202.45,375.2 L202.29,374.7 L202.12,374.2 L201.95,373.7 L201.77,373.2 L201.59,372.7 L201.40,372.2 L201.21,371.7 L201.01,371.2 L200.79,370.7 L200.57,370.2 L200.33,369.7 L200.07,369.2 L199.81,368.7 L199.53,368.2 L199.24,367.7 L198.94,367.2 L198.63,366.7 L198.31,366.2 L197.98,365.7 L197.63,365.2 L197.27,364.7 L196.89,364.2 L196.50,363.7 L196.10,363.2 L195.67,362.7 L195.24,362.2 L194.78,361.7 L194.31,361.2 L193.83,360.7 L193.33,360.2 L192.82,359.7 L192.30,359.2 L191.78,358.7 L191.25,358.2 L190.72,357.7 L190.18,357.2 L189.64,356.7 L189.10,356.2 L188.56,355.7 L188.02,355.2 L187.48,354.7 L186.94,354.2 L186.41,353.7 L185.89,353.2 L185.38,352.7 L184.86,352.2 L184.35,351.7 L183.83,351.2 L183.31,350.7 L182.79,350.2 L182.27,349.7 L181.74,349.2 L181.22,348.7 L180.70,348.2 L180.18,347.7 L179.66,347.2 L179.14,346.7 L178.63,346.2 L178.12,345.7 L177.61,345.2 L177.11,344.7 L176.61,344.2 L176.13,343.7 L175.66,343.2 L175.22,342.7 L174.79,342.2 L174.39,341.7 L174.02,341.2 L173.67,340.7 L173.35,340.2 L173.05,339.7 L172.77,339.2 L172.50,338.7 L172.25,338.2 L172.02,337.7 L171.79,337.2 L171.58,336.7 L171.37,336.2 L171.17,335.7 L170.98,335.2 L170.80,334.7 L170.62,334.2 L170.45,333.7 L170.29,333.2 L170.14,332.7 L170.00,332.2 L169.87,331.7 L169.75,331.2 L169.64,330.7 L169.55,330.2 L169.47,329.7 L169.39,329.2 L169.33,328.7 L169.28,328.2 L169.24,327.7 L169.21,327.2 L169.18,326.7 L169.17,326.2 L169.16,325.7 L169.16,325.2 L169.18,324.7 L169.20,324.2 L169.23,323.7 L169.26,323.2 L169.30,322.7 L169.35,322.2 L169.40,321.7 L169.45,321.2 L169.51,320.7 L169.58,320.2 L169.64,319.7 L169.71,319.2 L169.78,318.7 L169.85,318.2 L169.91,317.7 L169.98,317.2 L170.04,316.7 L170.11,316.2 L170.18,315.7 L170.26,315.2 L170.34,314.7 L170.43,314.2 L170.51,313.7 L170.61,313.2 L170.71,312.7 L170.81,312.2 L170.92,311.7 L171.04,311.2 L171.16,310.7 L171.29,310.2 L171.43,309.7 L171.59,309.2 L171.75,308.7 L171.92,308.2 L172.11,307.7 L172.30,307.2 L172.50,306.7 L172.71,306.2 L172.94,305.7 L173.17,305.2 L173.42,304.7 L173.66,304.2 L173.91,303.7 L174.15,303.2 L174.40,302.7 L174.64,302.2 L174.89,301.7 L175.15,301.2 L175.41,300.7 L175.68,300.2 L175.95,299.7 L176.23,299.2 L176.52,298.7 L176.82,298.2 L177.13,297.7 L177.44,297.2 L177.75,296.7 L178.08,296.2 L178.41,295.7 L178.74,295.2 L179.07,294.7 L179.40,294.2 L179.73,293.7 L180.05,293.2 L180.38,292.7 L180.70,292.2 L181.03,291.7 L181.37,291.2 L181.71,290.7 L182.06,290.2 L182.42,289.7 L182.79,289.2 L183.16,288.7 L183.54,288.2 L183.92,287.7 L184.31,287.2 L184.69,286.7 L185.06,286.2 L185.44,285.7 L185.80,285.2 L186.15,284.7 L186.50,284.2 L186.83,283.7 L187.16,283.2 L187.47,282.7 L187.78,282.2 L188.07,281.7 L188.35,281.2 L188.62,280.7 L188.87,280.2 L189.10,279.7 L189.32,279.2 L189.51,278.7 L189.70,278.2 L189.86,277.7 L190.02,277.2 L190.17,276.7 L190.30,276.2 L190.43,275.7 L190.55,275.2 L190.67,274.7 L190.78,274.2 L190.89,273.7 L191.00,273.2 L191.10,272.7 L191.20,272.2 L191.30,271.7 L191.40,271.2 L191.49,270.7 L191.58,270.2 L191.67,269.7 L191.76,269.2 L191.85,268.7 L191.93,268.2 L192.02,267.7 L192.11,267.2 L192.20,266.7 L192.30,266.2 L192.39,265.7 L192.49,265.2 L192.59,264.7 L192.69,264.2 L192.79,263.7 L192.89,263.2 L192.99,262.7 L193.10,262.2 L193.20,261.7 L193.31,261.2 L193.41,260.7 L193.52,260.2 L193.63,259.7 L193.74,259.2 L193.85,258.7 L193.96,258.2 L194.08,257.7 L194.19,257.2 L194.31,256.7 L194.44,256.2 L194.56,255.7 L194.68,255.2 L194.80,254.7 L194.92,254.2 L195.04,253.7 L195.16,253.2 L195.29,252.7 L195.41,252.2 L195.53,251.7 L195.65,251.2 L195.77,250.7 L195.89,250.2 L196.01,249.7 L196.13,249.2 L196.25,248.7 L196.37,248.2 L196.49,247.7 L196.60,247.2 L196.72,246.7 L196.84,246.2 L196.96,245.7 L197.08,245.2 L197.20,244.7 L197.32,244.2 L197.44,243.7 L197.56,243.2 L197.68,242.7 L197.80,242.2 L197.93,241.7 L198.05,241.2 L198.18,240.7 L198.30,240.2 L198.43,239.7 L198.56,239.2 L198.68,238.7 L198.81,238.2 L198.94,237.7 L199.07,237.2 L199.20,236.7 L199.33,236.2 L199.46,235.7 L199.59,235.2 L199.71,234.7 L199.84,234.2 L199.96,233.7 L200.08,233.2 L200.20,232.7 L200.32,232.2 L200.43,231.7 L200.54,231.2 L200.65,230.7 L200.75,230.2 L200.85,229.7 L200.94,229.2 L201.03,228.7 L201.11,228.2 L201.19,227.7 L201.27,227.2 L201.34,226.7 L201.41,226.2 L201.48,225.7 L201.55,225.2 L201.61,224.7 L201.68,224.2 L201.74,223.7 L201.81,223.2 L201.87,222.7 L201.93,222.2 L201.99,221.7 L202.06,221.2 L202.12,220.7 L202.18,220.2 L202.24,219.7 L202.30,219.2 L202.36,218.7 L202.42,218.2 L202.48,217.7 L202.54,217.2 L202.60,216.7 L202.66,216.2 L202.71,215.7 L202.77,215.2 L202.82,214.7 L202.87,214.2 L202.92,213.7 L202.96,213.2 L203.01,212.7 L203.05,212.2 L203.09,211.7 L203.13,211.2 L203.17,210.7 L203.21,210.2 L203.25,209.7 L203.29,209.2 L203.33,208.7 L203.37,208.2 L203.40,207.7 L203.44,207.2 L203.47,206.7 L203.51,206.2 L203.54,205.7 L203.57,205.2 L203.60,204.7 L203.62,204.2 L203.65,203.7 L203.67,203.2 L203.70,202.7 L203.72,202.2 L203.74,201.7 L203.75,201.2 L203.77,200.7 L203.79,200.2 L203.80,199.7 L203.81,199.2 L203.82,198.7 L203.84,198.2 L203.85,197.7 L203.86,197.2 L203.86,196.7 L203.87,196.2 L203.88,195.7 L203.89,195.2 L203.90,194.7 L203.90,194.2 L203.91,193.7 L203.92,193.2 L203.92,192.7 L203.93,192.2 L203.93,191.7 L203.94,191.2 L203.94,190.7 L203.95,190.2 L203.95,189.7 L203.96,189.2 L203.96,188.7 L203.96,188.2 L203.97,187.7 L203.97,187.2 L203.98,186.7 L203.98,186.2 L203.98,185.7 L203.99,185.2 L203.99,184.7 L203.99,184.2 L204.00,183.7 L204.00,183.2 L204.00,182.7 L204.00,182.2 L204.01,181.7 L204.01,181.2 L204.01,180.7 L204.01,180.2 L204.02,179.7 L204.02,179.2 L204.02,178.7 L204.02,178.2 L204.03,177.7 L204.03,177.2 L204.03,176.7 L204.03,176.2 L204.04,175.7 L204.04,175.2 L204.04,174.7 L204.04,174.2 L204.04,173.7 L204.05,173.2 L204.05,172.7 L204.05,172.2 L204.05,171.7 L204.05,171.2 L204.06,170.7 L204.06,170.2 L204.06,169.7 L204.06,169.2 L204.06,168.7 L204.06,168.2 L204.07,167.7 L204.07,167.2 L204.07,166.7 L204.07,166.2 L204.07,165.7 L204.07,165.2 L204.08,164.7 L204.08,164.2 L204.08,163.7 L204.08,163.2 L204.08,162.7 L204.08,162.2 L204.09,161.7 L204.09,161.2 L204.09,160.7 L204.09,160.2 L204.09,159.7 L204.09,159.2 L204.10,158.7 L204.10,158.2 L204.10,157.7 L204.10,157.2 L204.10,156.7 L204.11,156.2 L204.11,155.7 L204.11,155.2 L204.11,154.7 L204.11,154.2 L204.12,153.7 L204.12,153.2 L204.12,152.7 L204.12,152.2 L204.12,151.7 L204.13,151.2 L204.13,150.7 L204.13,150.2 L204.13,149.7 L204.14,149.2 L204.14,148.7 L204.14,148.2 L204.15,147.7 L204.15,147.2 L204.15,146.7 L204.16,146.2 L204.16,145.7 L204.16,145.2 L204.16,144.7 L204.17,144.2 L204.17,143.7 L204.18,143.2 L204.18,142.7 L204.18,142.2 L204.19,141.7 L204.19,141.2 L204.20,140.7 L204.20,140.2 L204.21,139.7 L204.21,139.2 L204.22,138.7 L204.22,138.2 L204.23,137.7 L204.23,137.2 L204.24,136.7 L204.25,136.2 L204.26,135.7 L204.27,135.2 L204.27,134.7 L204.28,134.2 L204.29,133.7 L204.30,133.2 L204.31,132.7 L204.32,132.2 L204.33,131.7 L204.34,131.2 L204.35,130.7 L204.36,130.2 L204.37,129.7 L204.38,129.2 L204.38,128.7 L204.39,128.2 L204.40,127.7 L204.41,127.2 L204.42,126.7 L204.43,126.2 L204.44,125.7 L204.45,125.2 L204.45,124.7 L204.46,124.2 L204.47,123.7 L204.48,123.2 L204.48,122.7 L204.49,122.2 L204.50,121.7 L204.51,121.2 L204.52,120.7 L204.52,120.2 L204.53,119.7 L204.54,119.2 L204.55,118.7 L204.55,118.2 L204.55,117.7 L204.55,117.2 L204.55,116.7 L204.55,116.2 L204.55,115.7 L204.55,115.2 L204.55,114.7 L204.55,114.2 L204.55,113.7 L204.55,113.2 L204.55,112.7 L204.55,112.2 L204.55,111.7 L204.55,111.2 L204.55,110.7 L204.55,110.2 L204.55,109.7 L204.55,109.2 L204.55,108.7 L204.55,108.2 L204.55,107.7 L204.55,107.2 L204.55,106.7 L204.55,106.2 L204.55,105.7 L204.55,105.2 L204.55,104.7 L204.55,104.2 L204.55,103.7 L204.55,103.2 L204.55,102.7 L204.55,102.2 L204.55,101.7 L204.55,101.2 L204.55,100.7 L204.80,100.2Z" fill="none" stroke="#05B9C3" stroke-width="1.65" stroke-linejoin="round"/><path d="M204.8,100.7V217" stroke="#05B9C3" stroke-width="1.6" fill="none"/><ellipse cx="204.8" cy="127.1" rx="3.4" ry="3.1" fill="#05B9C3"/><ellipse cx="204.8" cy="134" rx="3.4" ry="3.1" fill="#05B9C3"/><ellipse cx="204.8" cy="147.5" rx="3.4" ry="3.1" fill="#05B9C3"/><ellipse cx="204.8" cy="156.2" rx="3.4" ry="3.1" fill="#05B9C3"/><ellipse cx="204.8" cy="162" rx="3.4" ry="3.1" fill="#05B9C3"/><ellipse cx="204.8" cy="166" rx="3.4" ry="3.1" fill="#05B9C3"/><ellipse cx="204.8" cy="170" rx="3.4" ry="3.1" fill="#05B9C3"/><ellipse cx="204.8" cy="174" rx="3.4" ry="3.1" fill="#05B9C3"/><ellipse cx="204.8" cy="178" rx="3.4" ry="3.1" fill="#05B9C3"/><ellipse cx="204.8" cy="182" rx="3.4" ry="3.1" fill="#05B9C3"/><ellipse cx="204.8" cy="187.1" rx="3.4" ry="3.1" fill="#05B9C3"/><ellipse cx="204.8" cy="202.9" rx="3.4" ry="3.1" fill="#05B9C3"/><ellipse cx="204.8" cy="211" rx="3.4" ry="3.1" fill="#05B9C3"/><ellipse cx="204.8" cy="214" rx="3.4" ry="3.1" fill="#05B9C3"/><ellipse cx="204.8" cy="217" rx="3.4" ry="3.1" fill="#05B9C3"/><path d="M204.60,219V288.0M204.60,334.3V381" stroke="#05B9C3" stroke-width="1.65" fill="none"/><rect x="192.1" y="288.0" width="25.0" height="46.3" fill="#fff" stroke="#05B9C3" stroke-width="1.65"/><path d="M192.1,313.2H217.1" stroke="#05B9C3" stroke-width="2.7" fill="none"/><path d="M287.40,113.6 L287.40,114.1 L287.40,114.6 L287.40,115.1 L287.40,115.6 L287.40,116.1 L287.40,116.6 L287.40,117.1 L287.40,117.6 L287.40,118.1 L287.40,118.6 L287.40,119.1 L287.40,119.6 L287.40,120.1 L287.40,120.6 L287.40,121.1 L287.40,121.6 L287.40,122.1 L287.40,122.6 L287.40,123.1 L287.40,123.6 L287.40,124.1 L287.40,124.6 L287.40,125.1 L287.40,125.6 L287.40,126.1 L287.40,126.6 L287.40,127.1 L287.40,127.6 L287.40,128.1 L287.40,128.6 L287.40,129.1 L287.40,129.6 L287.40,130.1 L287.40,130.6 L287.41,131.1 L287.41,131.6 L287.41,132.1 L287.41,132.6 L287.41,133.1 L287.41,133.6 L287.41,134.1 L287.41,134.6 L287.41,135.1 L287.41,135.6 L287.41,136.1 L287.41,136.6 L287.41,137.1 L287.41,137.6 L287.41,138.1 L287.41,138.6 L287.41,139.1 L287.41,139.6 L287.41,140.1 L287.41,140.6 L287.41,141.1 L287.42,141.6 L287.42,142.1 L287.42,142.6 L287.42,143.1 L287.42,143.6 L287.42,144.1 L287.42,144.6 L287.42,145.1 L287.42,145.6 L287.42,146.1 L287.42,146.6 L287.42,147.1 L287.42,147.6 L287.42,148.1 L287.43,148.6 L287.43,149.1 L287.43,149.6 L287.43,150.1 L287.43,150.6 L287.43,151.1 L287.43,151.6 L287.43,152.1 L287.43,152.6 L287.43,153.1 L287.43,153.6 L287.44,154.1 L287.44,154.6 L287.44,155.1 L287.44,155.6 L287.44,156.1 L287.44,156.6 L287.44,157.1 L287.45,157.6 L287.45,158.1 L287.45,158.6 L287.46,159.1 L287.46,159.6 L287.47,160.1 L287.48,160.6 L287.49,161.1 L287.51,161.6 L287.53,162.1 L287.55,162.6 L287.57,163.1 L287.60,163.6 L287.63,164.1 L287.65,164.6 L287.68,165.1 L287.71,165.6 L287.74,166.1 L287.77,166.6 L287.79,167.1 L287.81,167.6 L287.83,168.1 L287.85,168.6 L287.87,169.1 L287.88,169.6 L287.88,170.1 L287.89,170.6 L287.89,171.1 L287.90,171.6 L287.90,172.1 L287.90,172.6 L287.90,173.1 L287.90,173.6 L287.90,174.1 L287.90,174.6 L287.90,175.1 L287.90,175.6 L287.90,176.1 L287.90,176.6 L287.90,177.1 L287.90,177.6 L287.90,178.1 L287.90,178.6 L287.90,179.1 L287.90,179.6 L287.90,180.1 L287.90,180.6 L287.90,181.1 L287.90,181.6 L287.90,182.1 L287.90,182.6 L287.90,183.1 L287.90,183.6 L287.90,184.1 L287.90,184.6 L287.90,185.1 L287.90,185.6 L287.90,186.1 L287.90,186.6 L287.90,187.1 L287.90,187.6 L287.90,188.1 L287.90,188.6 L287.90,189.1 L287.90,189.6 L287.90,190.1 L287.90,190.6 L287.90,191.1 L287.90,191.6 L287.90,192.1 L287.90,192.6 L287.90,193.1 L287.90,193.6 L287.90,194.1 L287.90,194.6 L287.90,195.1 L287.90,195.6 L287.90,196.1 L287.90,196.6 L287.90,197.1 L287.90,197.6 L287.90,198.1 L287.91,198.6 L287.91,199.1 L287.92,199.6 L287.93,200.1 L287.95,200.6 L287.96,201.1 L287.99,201.6 L288.01,202.1 L288.04,202.6 L288.08,203.1 L288.11,203.6 L288.15,204.1 L288.19,204.6 L288.22,205.1 L288.26,205.6 L288.29,206.1 L288.32,206.6 L288.35,207.1 L288.38,207.6 L288.41,208.1 L288.44,208.6 L288.46,209.1 L288.49,209.6 L288.52,210.1 L288.54,210.6 L288.57,211.1 L288.59,211.6 L288.61,212.1 L288.64,212.6 L288.66,213.1 L288.68,213.6 L288.71,214.1 L288.73,214.6 L288.76,215.1 L288.78,215.6 L288.80,216.1 L288.83,216.6 L288.85,217.1 L288.88,217.6 L288.90,218.1 L288.93,218.6 L288.95,219.1 L288.98,219.6 L289.01,220.1 L289.03,220.6 L289.06,221.1 L289.08,221.6 L289.11,222.1 L289.14,222.6 L289.16,223.1 L289.19,223.6 L289.22,224.1 L289.24,224.6 L289.27,225.1 L289.29,225.6 L289.32,226.1 L289.35,226.6 L289.37,227.1 L289.40,227.6 L289.43,228.1 L289.45,228.6 L289.48,229.1 L289.51,229.6 L289.54,230.1 L289.56,230.6 L289.59,231.1 L289.62,231.6 L289.65,232.1 L289.68,232.6 L289.71,233.1 L289.74,233.6 L289.78,234.1 L289.81,234.6 L289.84,235.1 L289.88,235.6 L289.91,236.1 L289.95,236.6 L289.98,237.1 L290.02,237.6 L290.06,238.1 L290.10,238.6 L290.14,239.1 L290.18,239.6 L290.23,240.1 L290.27,240.6 L290.32,241.1 L290.38,241.6 L290.43,242.1 L290.48,242.6 L290.54,243.1 L290.60,243.6 L290.65,244.1 L290.71,244.6 L290.77,245.1 L290.82,245.6 L290.87,246.1 L290.92,246.6 L290.97,247.1 L291.02,247.6 L291.07,248.1 L291.12,248.6 L291.16,249.1 L291.21,249.6 L291.26,250.1 L291.31,250.6 L291.36,251.1 L291.42,251.6 L291.47,252.1 L291.53,252.6 L291.58,253.1 L291.64,253.6 L291.70,254.1 L291.76,254.6 L291.82,255.1 L291.88,255.6 L291.95,256.1 L292.01,256.6 L292.08,257.1 L292.15,257.6 L292.22,258.1 L292.30,258.6 L292.38,259.1 L292.46,259.6 L292.55,260.1 L292.64,260.6 L292.74,261.1 L292.85,261.6 L292.96,262.1 L293.08,262.6 L293.21,263.1 L293.34,263.6 L293.48,264.1 L293.63,264.6 L293.78,265.1 L293.94,265.6 L294.10,266.1 L294.27,266.6 L294.44,267.1 L294.62,267.6 L294.81,268.1 L295.00,268.6 L295.20,269.1 L295.41,269.6 L295.62,270.1 L295.84,270.6 L296.07,271.1 L296.31,271.6 L296.56,272.1 L296.81,272.6 L297.07,273.1 L297.35,273.6 L297.63,274.1 L297.92,274.6 L298.23,275.1 L298.56,275.6 L298.90,276.1 L299.26,276.6 L299.64,277.1 L300.04,277.6 L300.45,278.1 L300.88,278.6 L301.32,279.1 L301.77,279.6 L302.21,280.1 L302.66,280.6 L303.09,281.1 L303.52,281.6 L303.93,282.1 L304.32,282.6 L304.70,283.1 L305.07,283.6 L305.41,284.1 L305.73,284.6 L306.03,285.1 L306.32,285.6 L306.58,286.1 L306.83,286.6 L307.05,287.1 L307.27,287.6 L307.47,288.1 L307.66,288.6 L307.83,289.1 L307.99,289.6 L308.14,290.1 L308.28,290.6 L308.42,291.1 L308.54,291.6 L308.67,292.1 L308.78,292.6 L308.90,293.1 L309.03,293.6 L309.16,294.1 L309.29,294.6 L309.44,295.1 L309.61,295.6 L309.79,296.1 L309.99,296.6 L310.21,297.1 L310.45,297.6 L310.71,298.1 L310.99,298.6 L311.29,299.1 L311.61,299.6 L311.94,300.1 L312.30,300.6 L312.67,301.1 L313.06,301.6 L313.46,302.1 L313.88,302.6 L314.31,303.1 L314.76,303.6 L315.20,304.1 L315.65,304.6 L316.10,305.1 L316.55,305.6 L316.99,306.1 L317.42,306.6 L317.85,307.1 L318.27,307.6 L318.69,308.1 L319.10,308.6 L319.50,309.1 L319.89,309.6 L320.27,310.1 L320.65,310.6 L321.02,311.1 L321.38,311.6 L321.73,312.1 L322.07,312.6 L322.41,313.1 L322.75,313.6 L323.08,314.1 L323.40,314.6 L323.73,315.1 L324.05,315.6 L324.37,316.1 L324.68,316.6 L324.99,317.1 L325.29,317.6 L325.57,318.1 L325.83,318.6 L326.07,319.1 L326.29,319.6 L326.50,320.1 L326.70,320.6 L326.88,321.1 L327.05,321.6 L327.22,322.1 L327.37,322.6 L327.51,323.1 L327.65,323.6 L327.78,324.1 L327.91,324.6 L328.03,325.1 L328.15,325.6 L328.26,326.1 L328.38,326.6 L328.48,327.1 L328.58,327.6 L328.66,328.1 L328.73,328.6 L328.78,329.1 L328.83,329.6 L328.85,330.1 L328.87,330.6 L328.88,331.1 L328.87,331.6 L328.85,332.1 L328.82,332.6 L328.77,333.1 L328.71,333.6 L328.64,334.1 L328.56,334.6 L328.46,335.1 L328.34,335.6 L328.20,336.1 L328.04,336.6 L327.87,337.1 L327.67,337.6 L327.46,338.1 L327.23,338.6 L326.98,339.1 L326.72,339.6 L326.45,340.1 L326.16,340.6 L325.85,341.1 L325.52,341.6 L325.17,342.1 L324.81,342.6 L324.43,343.1 L324.03,343.6 L323.63,344.1 L323.21,344.6 L322.79,345.1 L322.36,345.6 L321.91,346.1 L321.46,346.6 L320.99,347.1 L320.50,347.6 L319.98,348.1 L319.45,348.6 L318.88,349.1 L318.28,349.6 L317.65,350.1 L316.98,350.6 L316.29,351.1 L315.57,351.6 L314.83,352.1 L314.07,352.6 L313.30,353.1 L312.51,353.6 L311.72,354.1 L310.92,354.6 L310.12,355.1 L309.32,355.6 L308.52,356.1 L307.73,356.6 L306.95,357.1 L306.18,357.6 L305.42,358.1 L304.67,358.6 L303.93,359.1 L303.20,359.6 L302.49,360.1 L301.79,360.6 L301.11,361.1 L300.45,361.6 L299.81,362.1 L299.19,362.6 L298.59,363.1 L298.02,363.6 L297.47,364.1 L296.94,364.6 L296.43,365.1 L295.94,365.6 L295.47,366.1 L295.01,366.6 L294.58,367.1 L294.16,367.6 L293.76,368.1 L293.38,368.6 L293.03,369.1 L292.69,369.6 L292.37,370.1 L292.07,370.6 L291.78,371.1 L291.51,371.6 L291.25,372.1 L291.01,372.6 L290.79,373.1 L290.57,373.6 L290.37,374.1 L290.18,374.6 L290.01,375.1 L289.84,375.6 L289.68,376.1 L289.54,376.6 L289.40,377.1 L289.27,377.6 L289.15,378.1 L289.04,378.6 L288.93,379.1 L288.83,379.6 L288.73,380.1 L288.63,380.6 L288.54,381.1 L288.45,381.6 L288.36,382.1 L288.28,382.6 L288.19,383.1 L288.12,383.6 L288.05,384.1 L287.98,384.6 L287.92,385.1 L287.86,385.6 L287.81,386.1 L287.76,386.6 L287.71,387.1 L287.67,387.6 L287.63,388.1 L287.59,388.6 L287.56,389.1 L287.53,389.6 L287.50,390.1 L287.48,390.6 L287.46,391.1 L287.44,391.6 L287.43,392.1 L287.42,392.6 L287.40,392.7 L287.40,392.7 L287.38,392.6 L287.37,392.1 L287.36,391.6 L287.34,391.1 L287.32,390.6 L287.30,390.1 L287.27,389.6 L287.24,389.1 L287.21,388.6 L287.17,388.1 L287.13,387.6 L287.09,387.1 L287.04,386.6 L286.99,386.1 L286.94,385.6 L286.88,385.1 L286.82,384.6 L286.75,384.1 L286.68,383.6 L286.61,383.1 L286.52,382.6 L286.44,382.1 L286.35,381.6 L286.26,381.1 L286.17,380.6 L286.07,380.1 L285.97,379.6 L285.87,379.1 L285.76,378.6 L285.65,378.1 L285.53,377.6 L285.40,377.1 L285.26,376.6 L285.12,376.1 L284.96,375.6 L284.79,375.1 L284.62,374.6 L284.43,374.1 L284.23,373.6 L284.01,373.1 L283.79,372.6 L283.55,372.1 L283.29,371.6 L283.02,371.1 L282.73,370.6 L282.43,370.1 L282.11,369.6 L281.77,369.1 L281.42,368.6 L281.04,368.1 L280.64,367.6 L280.22,367.1 L279.79,366.6 L279.33,366.1 L278.86,365.6 L278.37,365.1 L277.86,364.6 L277.33,364.1 L276.78,363.6 L276.21,363.1 L275.61,362.6 L274.99,362.1 L274.35,361.6 L273.69,361.1 L273.01,360.6 L272.31,360.1 L271.60,359.6 L270.87,359.1 L270.13,358.6 L269.38,358.1 L268.62,357.6 L267.85,357.1 L267.07,356.6 L266.28,356.1 L265.48,355.6 L264.68,355.1 L263.88,354.6 L263.08,354.1 L262.29,353.6 L261.50,353.1 L260.73,352.6 L259.97,352.1 L259.23,351.6 L258.51,351.1 L257.82,350.6 L257.15,350.1 L256.52,349.6 L255.92,349.1 L255.35,348.6 L254.82,348.1 L254.30,347.6 L253.81,347.1 L253.34,346.6 L252.89,346.1 L252.44,345.6 L252.01,345.1 L251.59,344.6 L251.17,344.1 L250.77,343.6 L250.37,343.1 L249.99,342.6 L249.63,342.1 L249.28,341.6 L248.95,341.1 L248.64,340.6 L248.35,340.1 L248.08,339.6 L247.82,339.1 L247.57,338.6 L247.34,338.1 L247.13,337.6 L246.93,337.1 L246.76,336.6 L246.60,336.1 L246.46,335.6 L246.34,335.1 L246.24,334.6 L246.16,334.1 L246.09,333.6 L246.03,333.1 L245.98,332.6 L245.95,332.1 L245.93,331.6 L245.92,331.1 L245.93,330.6 L245.95,330.1 L245.97,329.6 L246.02,329.1 L246.07,328.6 L246.14,328.1 L246.22,327.6 L246.32,327.1 L246.42,326.6 L246.54,326.1 L246.65,325.6 L246.77,325.1 L246.89,324.6 L247.02,324.1 L247.15,323.6 L247.29,323.1 L247.43,322.6 L247.58,322.1 L247.75,321.6 L247.92,321.1 L248.10,320.6 L248.30,320.1 L248.51,319.6 L248.73,319.1 L248.97,318.6 L249.23,318.1 L249.51,317.6 L249.81,317.1 L250.12,316.6 L250.43,316.1 L250.75,315.6 L251.07,315.1 L251.40,314.6 L251.72,314.1 L252.05,313.6 L252.39,313.1 L252.73,312.6 L253.07,312.1 L253.42,311.6 L253.78,311.1 L254.15,310.6 L254.53,310.1 L254.91,309.6 L255.30,309.1 L255.70,308.6 L256.11,308.1 L256.53,307.6 L256.95,307.1 L257.38,306.6 L257.81,306.1 L258.25,305.6 L258.70,305.1 L259.15,304.6 L259.60,304.1 L260.04,303.6 L260.49,303.1 L260.92,302.6 L261.34,302.1 L261.74,301.6 L262.13,301.1 L262.50,300.6 L262.86,300.1 L263.19,299.6 L263.51,299.1 L263.81,298.6 L264.09,298.1 L264.35,297.6 L264.59,297.1 L264.81,296.6 L265.01,296.1 L265.19,295.6 L265.36,295.1 L265.51,294.6 L265.64,294.1 L265.77,293.6 L265.90,293.1 L266.02,292.6 L266.13,292.1 L266.26,291.6 L266.38,291.1 L266.52,290.6 L266.66,290.1 L266.81,289.6 L266.97,289.1 L267.14,288.6 L267.33,288.1 L267.53,287.6 L267.75,287.1 L267.97,286.6 L268.22,286.1 L268.48,285.6 L268.77,285.1 L269.07,284.6 L269.39,284.1 L269.73,283.6 L270.10,283.1 L270.48,282.6 L270.87,282.1 L271.28,281.6 L271.71,281.1 L272.14,280.6 L272.59,280.1 L273.03,279.6 L273.48,279.1 L273.92,278.6 L274.35,278.1 L274.76,277.6 L275.16,277.1 L275.54,276.6 L275.90,276.1 L276.24,275.6 L276.57,275.1 L276.88,274.6 L277.17,274.1 L277.45,273.6 L277.73,273.1 L277.99,272.6 L278.24,272.1 L278.49,271.6 L278.73,271.1 L278.96,270.6 L279.18,270.1 L279.39,269.6 L279.60,269.1 L279.80,268.6 L279.99,268.1 L280.18,267.6 L280.36,267.1 L280.53,266.6 L280.70,266.1 L280.86,265.6 L281.02,265.1 L281.17,264.6 L281.32,264.1 L281.46,263.6 L281.59,263.1 L281.72,262.6 L281.84,262.1 L281.95,261.6 L282.06,261.1 L282.16,260.6 L282.25,260.1 L282.34,259.6 L282.42,259.1 L282.50,258.6 L282.58,258.1 L282.65,257.6 L282.72,257.1 L282.79,256.6 L282.85,256.1 L282.92,255.6 L282.98,255.1 L283.04,254.6 L283.10,254.1 L283.16,253.6 L283.22,253.1 L283.27,252.6 L283.33,252.1 L283.38,251.6 L283.44,251.1 L283.49,250.6 L283.54,250.1 L283.59,249.6 L283.64,249.1 L283.68,248.6 L283.73,248.1 L283.78,247.6 L283.83,247.1 L283.88,246.6 L283.93,246.1 L283.98,245.6 L284.03,245.1 L284.09,244.6 L284.15,244.1 L284.20,243.6 L284.26,243.1 L284.32,242.6 L284.37,242.1 L284.42,241.6 L284.48,241.1 L284.53,240.6 L284.57,240.1 L284.62,239.6 L284.66,239.1 L284.70,238.6 L284.74,238.1 L284.78,237.6 L284.82,237.1 L284.85,236.6 L284.89,236.1 L284.92,235.6 L284.96,235.1 L284.99,234.6 L285.02,234.1 L285.06,233.6 L285.09,233.1 L285.12,232.6 L285.15,232.1 L285.18,231.6 L285.21,231.1 L285.24,230.6 L285.26,230.1 L285.29,229.6 L285.32,229.1 L285.35,228.6 L285.37,228.1 L285.40,227.6 L285.43,227.1 L285.45,226.6 L285.48,226.1 L285.51,225.6 L285.53,225.1 L285.56,224.6 L285.58,224.1 L285.61,223.6 L285.64,223.1 L285.66,222.6 L285.69,222.1 L285.72,221.6 L285.74,221.1 L285.77,220.6 L285.79,220.1 L285.82,219.6 L285.85,219.1 L285.87,218.6 L285.90,218.1 L285.92,217.6 L285.95,217.1 L285.97,216.6 L286.00,216.1 L286.02,215.6 L286.04,215.1 L286.07,214.6 L286.09,214.1 L286.12,213.6 L286.14,213.1 L286.16,212.6 L286.19,212.1 L286.21,211.6 L286.23,211.1 L286.26,210.6 L286.28,210.1 L286.31,209.6 L286.34,209.1 L286.36,208.6 L286.39,208.1 L286.42,207.6 L286.45,207.1 L286.48,206.6 L286.51,206.1 L286.54,205.6 L286.58,205.1 L286.61,204.6 L286.65,204.1 L286.69,203.6 L286.72,203.1 L286.76,202.6 L286.79,202.1 L286.81,201.6 L286.84,201.1 L286.85,200.6 L286.87,200.1 L286.88,199.6 L286.89,199.1 L286.89,198.6 L286.90,198.1 L286.90,197.6 L286.90,197.1 L286.90,196.6 L286.90,196.1 L286.90,195.6 L286.90,195.1 L286.90,194.6 L286.90,194.1 L286.90,193.6 L286.90,193.1 L286.90,192.6 L286.90,192.1 L286.90,191.6 L286.90,191.1 L286.90,190.6 L286.90,190.1 L286.90,189.6 L286.90,189.1 L286.90,188.6 L286.90,188.1 L286.90,187.6 L286.90,187.1 L286.90,186.6 L286.90,186.1 L286.90,185.6 L286.90,185.1 L286.90,184.6 L286.90,184.1 L286.90,183.6 L286.90,183.1 L286.90,182.6 L286.90,182.1 L286.90,181.6 L286.90,181.1 L286.90,180.6 L286.90,180.1 L286.90,179.6 L286.90,179.1 L286.90,178.6 L286.90,178.1 L286.90,177.6 L286.90,177.1 L286.90,176.6 L286.90,176.1 L286.90,175.6 L286.90,175.1 L286.90,174.6 L286.90,174.1 L286.90,173.6 L286.90,173.1 L286.90,172.6 L286.90,172.1 L286.90,171.6 L286.91,171.1 L286.91,170.6 L286.92,170.1 L286.92,169.6 L286.93,169.1 L286.95,168.6 L286.97,168.1 L286.99,167.6 L287.01,167.1 L287.03,166.6 L287.06,166.1 L287.09,165.6 L287.12,165.1 L287.15,164.6 L287.17,164.1 L287.20,163.6 L287.23,163.1 L287.25,162.6 L287.27,162.1 L287.29,161.6 L287.31,161.1 L287.32,160.6 L287.33,160.1 L287.34,159.6 L287.34,159.1 L287.35,158.6 L287.35,158.1 L287.35,157.6 L287.36,157.1 L287.36,156.6 L287.36,156.1 L287.36,155.6 L287.36,155.1 L287.36,154.6 L287.36,154.1 L287.37,153.6 L287.37,153.1 L287.37,152.6 L287.37,152.1 L287.37,151.6 L287.37,151.1 L287.37,150.6 L287.37,150.1 L287.37,149.6 L287.37,149.1 L287.37,148.6 L287.38,148.1 L287.38,147.6 L287.38,147.1 L287.38,146.6 L287.38,146.1 L287.38,145.6 L287.38,145.1 L287.38,144.6 L287.38,144.1 L287.38,143.6 L287.38,143.1 L287.38,142.6 L287.38,142.1 L287.38,141.6 L287.39,141.1 L287.39,140.6 L287.39,140.1 L287.39,139.6 L287.39,139.1 L287.39,138.6 L287.39,138.1 L287.39,137.6 L287.39,137.1 L287.39,136.6 L287.39,136.1 L287.39,135.6 L287.39,135.1 L287.39,134.6 L287.39,134.1 L287.39,133.6 L287.39,133.1 L287.39,132.6 L287.39,132.1 L287.39,131.6 L287.39,131.1 L287.40,130.6 L287.40,130.1 L287.40,129.6 L287.40,129.1 L287.40,128.6 L287.40,128.1 L287.40,127.6 L287.40,127.1 L287.40,126.6 L287.40,126.1 L287.40,125.6 L287.40,125.1 L287.40,124.6 L287.40,124.1 L287.40,123.6 L287.40,123.1 L287.40,122.6 L287.40,122.1 L287.40,121.6 L287.40,121.1 L287.40,120.6 L287.40,120.1 L287.40,119.6 L287.40,119.1 L287.40,118.6 L287.40,118.1 L287.40,117.6 L287.40,117.1 L287.40,116.6 L287.40,116.1 L287.40,115.6 L287.40,115.1 L287.40,114.6 L287.40,114.1 L287.40,113.6Z" fill="none" stroke="#FB685C" stroke-width="1.65" stroke-linejoin="round"/><path d="M287.4,114.1V242" stroke="#FB685C" stroke-width="1.2" fill="none"/><ellipse cx="287.4" cy="135.4" rx="3.4" ry="3.1" fill="#FB685C"/><ellipse cx="287.4" cy="179.5" rx="3.4" ry="3.1" fill="#FB685C"/><ellipse cx="287.4" cy="182" rx="3.4" ry="3.1" fill="#FB685C"/><ellipse cx="287.4" cy="191.2" rx="3.4" ry="3.1" fill="#FB685C"/><ellipse cx="287.4" cy="215" rx="3.4" ry="3.1" fill="#FB685C"/><ellipse cx="287.4" cy="218" rx="3.4" ry="3.1" fill="#FB685C"/><ellipse cx="287.4" cy="221" rx="3.4" ry="3.1" fill="#FB685C"/><ellipse cx="287.4" cy="224" rx="3.4" ry="3.1" fill="#FB685C"/><ellipse cx="287.4" cy="227" rx="3.4" ry="3.1" fill="#FB685C"/><ellipse cx="287.4" cy="230" rx="3.4" ry="3.1" fill="#FB685C"/><ellipse cx="287.4" cy="233" rx="3.4" ry="3.1" fill="#FB685C"/><ellipse cx="287.4" cy="236" rx="3.4" ry="3.1" fill="#FB685C"/><ellipse cx="287.4" cy="239" rx="3.4" ry="3.1" fill="#FB685C"/><ellipse cx="287.4" cy="242" rx="3.4" ry="3.1" fill="#FB685C"/><path d="M287.55,245V301.8M287.55,339.8V370.9" stroke="#FB685C" stroke-width="1.65" fill="none"/><rect x="275.2" y="301.8" width="24.7" height="38.0" fill="#fff" stroke="#FB685C" stroke-width="1.65"/><path d="M275.2,322.7H299.9" stroke="#FB685C" stroke-width="2.7" fill="none"/><path d="M370.00,33.1 L370.20,33.6 L370.20,34.1 L370.20,34.6 L370.20,35.1 L370.20,35.6 L370.20,36.1 L370.20,36.6 L370.20,37.1 L370.20,37.6 L370.20,38.1 L370.20,38.6 L370.20,39.1 L370.20,39.6 L370.20,40.1 L370.20,40.6 L370.20,41.1 L370.20,41.6 L370.20,42.1 L370.20,42.6 L370.20,43.1 L370.20,43.6 L370.20,44.1 L370.20,44.6 L370.20,45.1 L370.20,45.6 L370.20,46.1 L370.20,46.6 L370.20,47.1 L370.20,47.6 L370.20,48.1 L370.20,48.6 L370.20,49.1 L370.20,49.6 L370.20,50.1 L370.20,50.6 L370.20,51.1 L370.20,51.6 L370.20,52.1 L370.20,52.6 L370.20,53.1 L370.20,53.6 L370.20,54.1 L370.20,54.6 L370.20,55.1 L370.20,55.6 L370.20,56.1 L370.20,56.6 L370.20,57.1 L370.20,57.6 L370.20,58.1 L370.20,58.6 L370.20,59.1 L370.20,59.6 L370.20,60.1 L370.20,60.6 L370.20,61.1 L370.20,61.6 L370.20,62.1 L370.20,62.6 L370.20,63.1 L370.20,63.6 L370.20,64.1 L370.20,64.6 L370.20,65.1 L370.20,65.6 L370.20,66.1 L370.20,66.6 L370.20,67.1 L370.20,67.6 L370.20,68.1 L370.20,68.6 L370.20,69.1 L370.20,69.6 L370.20,70.1 L370.20,70.6 L370.20,71.1 L370.20,71.6 L370.20,72.1 L370.20,72.6 L370.21,73.1 L370.21,73.6 L370.21,74.1 L370.21,74.6 L370.22,75.1 L370.22,75.6 L370.22,76.1 L370.22,76.6 L370.22,77.1 L370.23,77.6 L370.23,78.1 L370.23,78.6 L370.23,79.1 L370.23,79.6 L370.23,80.1 L370.24,80.6 L370.24,81.1 L370.24,81.6 L370.24,82.1 L370.24,82.6 L370.25,83.1 L370.25,83.6 L370.25,84.1 L370.25,84.6 L370.25,85.1 L370.26,85.6 L370.26,86.1 L370.26,86.6 L370.26,87.1 L370.26,87.6 L370.26,88.1 L370.27,88.6 L370.27,89.1 L370.27,89.6 L370.27,90.1 L370.27,90.6 L370.27,91.1 L370.28,91.6 L370.28,92.1 L370.28,92.6 L370.28,93.1 L370.28,93.6 L370.28,94.1 L370.28,94.6 L370.29,95.1 L370.29,95.6 L370.29,96.1 L370.29,96.6 L370.29,97.1 L370.29,97.6 L370.29,98.1 L370.30,98.6 L370.30,99.1 L370.30,99.6 L370.30,100.1 L370.30,100.6 L370.30,101.1 L370.30,101.6 L370.31,102.1 L370.31,102.6 L370.31,103.1 L370.31,103.6 L370.31,104.1 L370.31,104.6 L370.31,105.1 L370.31,105.6 L370.31,106.1 L370.32,106.6 L370.32,107.1 L370.32,107.6 L370.32,108.1 L370.32,108.6 L370.32,109.1 L370.32,109.6 L370.32,110.1 L370.32,110.6 L370.32,111.1 L370.32,111.6 L370.33,112.1 L370.33,112.6 L370.33,113.1 L370.33,113.6 L370.33,114.1 L370.33,114.6 L370.33,115.1 L370.33,115.6 L370.33,116.1 L370.33,116.6 L370.33,117.1 L370.33,117.6 L370.33,118.1 L370.34,118.6 L370.34,119.1 L370.34,119.6 L370.34,120.1 L370.34,120.6 L370.34,121.1 L370.34,121.6 L370.34,122.1 L370.34,122.6 L370.34,123.1 L370.34,123.6 L370.34,124.1 L370.35,124.6 L370.35,125.1 L370.35,125.6 L370.35,126.1 L370.35,126.6 L370.35,127.1 L370.35,127.6 L370.35,128.1 L370.35,128.6 L370.35,129.1 L370.35,129.6 L370.36,130.1 L370.36,130.6 L370.36,131.1 L370.36,131.6 L370.36,132.1 L370.36,132.6 L370.36,133.1 L370.36,133.6 L370.36,134.1 L370.37,134.6 L370.37,135.1 L370.37,135.6 L370.37,136.1 L370.37,136.6 L370.37,137.1 L370.37,137.6 L370.37,138.1 L370.38,138.6 L370.38,139.1 L370.38,139.6 L370.38,140.1 L370.38,140.6 L370.38,141.1 L370.39,141.6 L370.39,142.1 L370.39,142.6 L370.39,143.1 L370.39,143.6 L370.40,144.1 L370.40,144.6 L370.40,145.1 L370.40,145.6 L370.40,146.1 L370.41,146.6 L370.41,147.1 L370.41,147.6 L370.41,148.1 L370.42,148.6 L370.42,149.1 L370.42,149.6 L370.42,150.1 L370.43,150.6 L370.43,151.1 L370.43,151.6 L370.44,152.1 L370.44,152.6 L370.44,153.1 L370.44,153.6 L370.45,154.1 L370.45,154.6 L370.45,155.1 L370.46,155.6 L370.46,156.1 L370.46,156.6 L370.47,157.1 L370.47,157.6 L370.47,158.1 L370.48,158.6 L370.48,159.1 L370.48,159.6 L370.49,160.1 L370.49,160.6 L370.49,161.1 L370.50,161.6 L370.50,162.1 L370.51,162.6 L370.51,163.1 L370.51,163.6 L370.52,164.1 L370.52,164.6 L370.53,165.1 L370.53,165.6 L370.53,166.1 L370.54,166.6 L370.54,167.1 L370.55,167.6 L370.55,168.1 L370.55,168.6 L370.56,169.1 L370.56,169.6 L370.57,170.1 L370.57,170.6 L370.57,171.1 L370.58,171.6 L370.58,172.1 L370.59,172.6 L370.59,173.1 L370.60,173.6 L370.60,174.1 L370.61,174.6 L370.61,175.1 L370.61,175.6 L370.62,176.1 L370.62,176.6 L370.63,177.1 L370.63,177.6 L370.64,178.1 L370.64,178.6 L370.65,179.1 L370.65,179.6 L370.66,180.1 L370.66,180.6 L370.67,181.1 L370.67,181.6 L370.68,182.1 L370.68,182.6 L370.69,183.1 L370.69,183.6 L370.70,184.1 L370.70,184.6 L370.71,185.1 L370.71,185.6 L370.72,186.1 L370.73,186.6 L370.73,187.1 L370.74,187.6 L370.74,188.1 L370.75,188.6 L370.76,189.1 L370.77,189.6 L370.77,190.1 L370.78,190.6 L370.79,191.1 L370.79,191.6 L370.80,192.1 L370.81,192.6 L370.82,193.1 L370.83,193.6 L370.83,194.1 L370.84,194.6 L370.85,195.1 L370.86,195.6 L370.87,196.1 L370.88,196.6 L370.89,197.1 L370.90,197.6 L370.91,198.1 L370.92,198.6 L370.93,199.1 L370.95,199.6 L370.96,200.1 L370.97,200.6 L370.99,201.1 L371.01,201.6 L371.03,202.1 L371.05,202.6 L371.07,203.1 L371.09,203.6 L371.11,204.1 L371.14,204.6 L371.17,205.1 L371.20,205.6 L371.23,206.1 L371.26,206.6 L371.29,207.1 L371.33,207.6 L371.37,208.1 L371.41,208.6 L371.45,209.1 L371.49,209.6 L371.54,210.1 L371.58,210.6 L371.63,211.1 L371.67,211.6 L371.72,212.1 L371.77,212.6 L371.82,213.1 L371.86,213.6 L371.91,214.1 L371.96,214.6 L372.01,215.1 L372.06,215.6 L372.11,216.1 L372.16,216.6 L372.21,217.1 L372.26,217.6 L372.32,218.1 L372.37,218.6 L372.43,219.1 L372.48,219.6 L372.54,220.1 L372.60,220.6 L372.65,221.1 L372.72,221.6 L372.78,222.1 L372.84,222.6 L372.91,223.1 L372.98,223.6 L373.05,224.1 L373.12,224.6 L373.20,225.1 L373.27,225.6 L373.35,226.1 L373.42,226.6 L373.50,227.1 L373.59,227.6 L373.67,228.1 L373.75,228.6 L373.84,229.1 L373.92,229.6 L374.01,230.1 L374.10,230.6 L374.19,231.1 L374.28,231.6 L374.37,232.1 L374.46,232.6 L374.55,233.1 L374.65,233.6 L374.74,234.1 L374.83,234.6 L374.92,235.1 L375.02,235.6 L375.11,236.1 L375.20,236.6 L375.29,237.1 L375.38,237.6 L375.46,238.1 L375.55,238.6 L375.64,239.1 L375.73,239.6 L375.81,240.1 L375.90,240.6 L375.98,241.1 L376.07,241.6 L376.15,242.1 L376.24,242.6 L376.32,243.1 L376.41,243.6 L376.49,244.1 L376.58,244.6 L376.66,245.1 L376.75,245.6 L376.84,246.1 L376.94,246.6 L377.03,247.1 L377.13,247.6 L377.23,248.1 L377.33,248.6 L377.44,249.1 L377.54,249.6 L377.64,250.1 L377.74,250.6 L377.84,251.1 L377.94,251.6 L378.04,252.1 L378.14,252.6 L378.23,253.1 L378.33,253.6 L378.42,254.1 L378.51,254.6 L378.60,255.1 L378.69,255.6 L378.78,256.1 L378.87,256.6 L378.96,257.1 L379.04,257.6 L379.13,258.1 L379.22,258.6 L379.31,259.1 L379.40,259.6 L379.50,260.1 L379.59,260.6 L379.69,261.1 L379.78,261.6 L379.88,262.1 L379.98,262.6 L380.08,263.1 L380.18,263.6 L380.28,264.1 L380.39,264.6 L380.50,265.1 L380.61,265.6 L380.72,266.1 L380.83,266.6 L380.95,267.1 L381.08,267.6 L381.20,268.1 L381.34,268.6 L381.48,269.1 L381.62,269.6 L381.78,270.1 L381.94,270.6 L382.11,271.1 L382.29,271.6 L382.48,272.1 L382.69,272.6 L382.91,273.1 L383.15,273.6 L383.39,274.1 L383.65,274.6 L383.92,275.1 L384.20,275.6 L384.49,276.1 L384.78,276.6 L385.09,277.1 L385.41,277.6 L385.73,278.1 L386.06,278.6 L386.40,279.1 L386.73,279.6 L387.06,280.1 L387.39,280.6 L387.71,281.1 L388.02,281.6 L388.32,282.1 L388.61,282.6 L388.90,283.1 L389.18,283.6 L389.45,284.1 L389.71,284.6 L389.96,285.1 L390.21,285.6 L390.44,286.1 L390.67,286.6 L390.89,287.1 L391.11,287.6 L391.31,288.1 L391.51,288.6 L391.70,289.1 L391.89,289.6 L392.07,290.1 L392.25,290.6 L392.43,291.1 L392.61,291.6 L392.78,292.1 L392.96,292.6 L393.14,293.1 L393.31,293.6 L393.49,294.1 L393.68,294.6 L393.86,295.1 L394.05,295.6 L394.24,296.1 L394.43,296.6 L394.63,297.1 L394.83,297.6 L395.03,298.1 L395.24,298.6 L395.45,299.1 L395.67,299.6 L395.88,300.1 L396.10,300.6 L396.32,301.1 L396.55,301.6 L396.77,302.1 L396.99,302.6 L397.21,303.1 L397.42,303.6 L397.64,304.1 L397.85,304.6 L398.05,305.1 L398.25,305.6 L398.45,306.1 L398.63,306.6 L398.82,307.1 L399.01,307.6 L399.21,308.1 L399.42,308.6 L399.64,309.1 L399.88,309.6 L400.13,310.1 L400.39,310.6 L400.66,311.1 L400.94,311.6 L401.22,312.1 L401.50,312.6 L401.78,313.1 L402.05,313.6 L402.30,314.1 L402.55,314.6 L402.78,315.1 L403.01,315.6 L403.23,316.1 L403.44,316.6 L403.64,317.1 L403.85,317.6 L404.07,318.1 L404.29,318.6 L404.51,319.1 L404.73,319.6 L404.95,320.1 L405.16,320.6 L405.35,321.1 L405.53,321.6 L405.70,322.1 L405.84,322.6 L405.98,323.1 L406.09,323.6 L406.19,324.1 L406.27,324.6 L406.33,325.1 L406.38,325.6 L406.42,326.1 L406.44,326.6 L406.46,327.1 L406.46,327.6 L406.46,328.1 L406.45,328.6 L406.42,329.1 L406.38,329.6 L406.32,330.1 L406.24,330.6 L406.14,331.1 L406.02,331.6 L405.89,332.1 L405.73,332.6 L405.56,333.1 L405.38,333.6 L405.19,334.1 L404.98,334.6 L404.77,335.1 L404.55,335.6 L404.31,336.1 L404.07,336.6 L403.82,337.1 L403.56,337.6 L403.29,338.1 L403.02,338.6 L402.73,339.1 L402.43,339.6 L402.13,340.1 L401.82,340.6 L401.50,341.1 L401.16,341.6 L400.80,342.1 L400.42,342.6 L400.03,343.1 L399.62,343.6 L399.20,344.1 L398.77,344.6 L398.33,345.1 L397.89,345.6 L397.44,346.1 L396.98,346.6 L396.52,347.1 L396.05,347.6 L395.58,348.1 L395.10,348.6 L394.61,349.1 L394.13,349.6 L393.64,350.1 L393.15,350.6 L392.66,351.1 L392.17,351.6 L391.68,352.1 L391.20,352.6 L390.72,353.1 L390.25,353.6 L389.80,354.1 L389.36,354.6 L388.94,355.1 L388.52,355.6 L388.10,356.1 L387.69,356.6 L387.27,357.1 L386.85,357.6 L386.44,358.1 L386.02,358.6 L385.60,359.1 L385.18,359.6 L384.76,360.1 L384.34,360.6 L383.92,361.1 L383.50,361.6 L383.08,362.1 L382.66,362.6 L382.25,363.1 L381.83,363.6 L381.42,364.1 L381.01,364.6 L380.60,365.1 L380.20,365.6 L379.81,366.1 L379.43,366.6 L379.06,367.1 L378.70,367.6 L378.36,368.1 L378.02,368.6 L377.69,369.1 L377.37,369.6 L377.07,370.1 L376.77,370.6 L376.48,371.1 L376.20,371.6 L375.93,372.1 L375.67,372.6 L375.42,373.1 L375.18,373.6 L374.95,374.1 L374.73,374.6 L374.51,375.1 L374.31,375.6 L374.11,376.1 L373.92,376.6 L373.74,377.1 L373.56,377.6 L373.38,378.1 L373.20,378.6 L373.03,379.1 L372.87,379.6 L372.71,380.1 L372.57,380.6 L372.43,381.1 L372.30,381.6 L372.17,382.1 L372.05,382.6 L371.94,383.1 L371.83,383.6 L371.73,384.1 L371.63,384.6 L371.53,385.1 L371.44,385.6 L371.36,386.1 L371.27,386.6 L371.20,387.1 L371.12,387.6 L371.05,388.1 L370.98,388.6 L370.92,389.1 L370.86,389.6 L370.80,390.1 L370.75,390.6 L370.70,391.1 L370.66,391.6 L370.61,392.1 L370.58,392.6 L370.54,393.1 L370.51,393.6 L370.48,394.1 L370.44,394.6 L370.42,395.1 L370.39,395.6 L370.36,396.1 L370.33,396.6 L370.31,397.1 L370.28,397.6 L370.26,398.1 L370.23,398.6 L370.21,399.1 L370.20,399.6 L370.20,400.1 L370.20,400.6 L370.20,401.1 L370.20,401.6 L370.20,402.1 L370.20,402.6 L370.20,403.1 L370.20,403.6 L370.20,404.1 L370.20,404.6 L370.20,405.1 L370.20,405.6 L370.20,406.1 L370.20,406.6 L370.20,407.1 L370.00,407.5 L370.00,407.5 L369.80,407.1 L369.80,406.6 L369.80,406.1 L369.80,405.6 L369.80,405.1 L369.80,404.6 L369.80,404.1 L369.80,403.6 L369.80,403.1 L369.80,402.6 L369.80,402.1 L369.80,401.6 L369.80,401.1 L369.80,400.6 L369.80,400.1 L369.80,399.6 L369.79,399.1 L369.77,398.6 L369.74,398.1 L369.72,397.6 L369.69,397.1 L369.67,396.6 L369.64,396.1 L369.61,395.6 L369.58,395.1 L369.56,394.6 L369.52,394.1 L369.49,393.6 L369.46,393.1 L369.42,392.6 L369.39,392.1 L369.34,391.6 L369.30,391.1 L369.25,390.6 L369.20,390.1 L369.14,389.6 L369.08,389.1 L369.02,388.6 L368.95,388.1 L368.88,387.6 L368.80,387.1 L368.73,386.6 L368.64,386.1 L368.56,385.6 L368.47,385.1 L368.37,384.6 L368.27,384.1 L368.17,383.6 L368.06,383.1 L367.95,382.6 L367.83,382.1 L367.70,381.6 L367.57,381.1 L367.43,380.6 L367.29,380.1 L367.13,379.6 L366.97,379.1 L366.80,378.6 L366.62,378.1 L366.44,377.6 L366.26,377.1 L366.08,376.6 L365.89,376.1 L365.69,375.6 L365.49,375.1 L365.27,374.6 L365.05,374.1 L364.82,373.6 L364.58,373.1 L364.33,372.6 L364.07,372.1 L363.80,371.6 L363.52,371.1 L363.23,370.6 L362.93,370.1 L362.63,369.6 L362.31,369.1 L361.98,368.6 L361.64,368.1 L361.30,367.6 L360.94,367.1 L360.57,366.6 L360.19,366.1 L359.80,365.6 L359.40,365.1 L358.99,364.6 L358.58,364.1 L358.17,363.6 L357.75,363.1 L357.34,362.6 L356.92,362.1 L356.50,361.6 L356.08,361.1 L355.66,360.6 L355.24,360.1 L354.82,359.6 L354.40,359.1 L353.98,358.6 L353.56,358.1 L353.15,357.6 L352.73,357.1 L352.31,356.6 L351.90,356.1 L351.48,355.6 L351.06,355.1 L350.64,354.6 L350.20,354.1 L349.75,353.6 L349.28,353.1 L348.80,352.6 L348.32,352.1 L347.83,351.6 L347.34,351.1 L346.85,350.6 L346.36,350.1 L345.87,349.6 L345.39,349.1 L344.90,348.6 L344.42,348.1 L343.95,347.6 L343.48,347.1 L343.02,346.6 L342.56,346.1 L342.11,345.6 L341.67,345.1 L341.23,344.6 L340.80,344.1 L340.38,343.6 L339.97,343.1 L339.58,342.6 L339.20,342.1 L338.84,341.6 L338.50,341.1 L338.18,340.6 L337.87,340.1 L337.57,339.6 L337.27,339.1 L336.98,338.6 L336.71,338.1 L336.44,337.6 L336.18,337.1 L335.93,336.6 L335.69,336.1 L335.45,335.6 L335.23,335.1 L335.02,334.6 L334.81,334.1 L334.62,333.6 L334.44,333.1 L334.27,332.6 L334.11,332.1 L333.98,331.6 L333.86,331.1 L333.76,330.6 L333.68,330.1 L333.62,329.6 L333.58,329.1 L333.55,328.6 L333.54,328.1 L333.54,327.6 L333.54,327.1 L333.56,326.6 L333.58,326.1 L333.62,325.6 L333.67,325.1 L333.73,324.6 L333.81,324.1 L333.91,323.6 L334.02,323.1 L334.16,322.6 L334.30,322.1 L334.47,321.6 L334.65,321.1 L334.84,320.6 L335.05,320.1 L335.27,319.6 L335.49,319.1 L335.71,318.6 L335.93,318.1 L336.15,317.6 L336.36,317.1 L336.56,316.6 L336.77,316.1 L336.99,315.6 L337.22,315.1 L337.45,314.6 L337.70,314.1 L337.95,313.6 L338.22,313.1 L338.50,312.6 L338.78,312.1 L339.06,311.6 L339.34,311.1 L339.61,310.6 L339.87,310.1 L340.12,309.6 L340.36,309.1 L340.58,308.6 L340.79,308.1 L340.99,307.6 L341.18,307.1 L341.37,306.6 L341.55,306.1 L341.75,305.6 L341.95,305.1 L342.15,304.6 L342.36,304.1 L342.58,303.6 L342.79,303.1 L343.01,302.6 L343.23,302.1 L343.45,301.6 L343.68,301.1 L343.90,300.6 L344.12,300.1 L344.33,299.6 L344.55,299.1 L344.76,298.6 L344.97,298.1 L345.17,297.6 L345.37,297.1 L345.57,296.6 L345.76,296.1 L345.95,295.6 L346.14,295.1 L346.32,294.6 L346.51,294.1 L346.69,293.6 L346.86,293.1 L347.04,292.6 L347.22,292.1 L347.39,291.6 L347.57,291.1 L347.75,290.6 L347.93,290.1 L348.11,289.6 L348.30,289.1 L348.49,288.6 L348.69,288.1 L348.89,287.6 L349.11,287.1 L349.33,286.6 L349.56,286.1 L349.79,285.6 L350.04,285.1 L350.29,284.6 L350.55,284.1 L350.82,283.6 L351.10,283.1 L351.39,282.6 L351.68,282.1 L351.98,281.6 L352.29,281.1 L352.61,280.6 L352.94,280.1 L353.27,279.6 L353.60,279.1 L353.94,278.6 L354.27,278.1 L354.59,277.6 L354.91,277.1 L355.22,276.6 L355.51,276.1 L355.80,275.6 L356.08,275.1 L356.35,274.6 L356.61,274.1 L356.85,273.6 L357.09,273.1 L357.31,272.6 L357.52,272.1 L357.71,271.6 L357.89,271.1 L358.06,270.6 L358.22,270.1 L358.38,269.6 L358.52,269.1 L358.66,268.6 L358.80,268.1 L358.92,267.6 L359.05,267.1 L359.17,266.6 L359.28,266.1 L359.39,265.6 L359.50,265.1 L359.61,264.6 L359.72,264.1 L359.82,263.6 L359.92,263.1 L360.02,262.6 L360.12,262.1 L360.22,261.6 L360.31,261.1 L360.41,260.6 L360.50,260.1 L360.60,259.6 L360.69,259.1 L360.78,258.6 L360.87,258.1 L360.96,257.6 L361.04,257.1 L361.13,256.6 L361.22,256.1 L361.31,255.6 L361.40,255.1 L361.49,254.6 L361.58,254.1 L361.67,253.6 L361.77,253.1 L361.86,252.6 L361.96,252.1 L362.06,251.6 L362.16,251.1 L362.26,250.6 L362.36,250.1 L362.46,249.6 L362.56,249.1 L362.67,248.6 L362.77,248.1 L362.87,247.6 L362.97,247.1 L363.06,246.6 L363.16,246.1 L363.25,245.6 L363.34,245.1 L363.42,244.6 L363.51,244.1 L363.59,243.6 L363.68,243.1 L363.76,242.6 L363.85,242.1 L363.93,241.6 L364.02,241.1 L364.10,240.6 L364.19,240.1 L364.27,239.6 L364.36,239.1 L364.45,238.6 L364.54,238.1 L364.62,237.6 L364.71,237.1 L364.80,236.6 L364.89,236.1 L364.98,235.6 L365.08,235.1 L365.17,234.6 L365.26,234.1 L365.35,233.6 L365.45,233.1 L365.54,232.6 L365.63,232.1 L365.72,231.6 L365.81,231.1 L365.90,230.6 L365.99,230.1 L366.08,229.6 L366.16,229.1 L366.25,228.6 L366.33,228.1 L366.41,227.6 L366.50,227.1 L366.58,226.6 L366.65,226.1 L366.73,225.6 L366.80,225.1 L366.88,224.6 L366.95,224.1 L367.02,223.6 L367.09,223.1 L367.16,222.6 L367.22,222.1 L367.28,221.6 L367.35,221.1 L367.40,220.6 L367.46,220.1 L367.52,219.6 L367.57,219.1 L367.63,218.6 L367.68,218.1 L367.74,217.6 L367.79,217.1 L367.84,216.6 L367.89,216.1 L367.94,215.6 L367.99,215.1 L368.04,214.6 L368.09,214.1 L368.14,213.6 L368.18,213.1 L368.23,212.6 L368.28,212.1 L368.33,211.6 L368.37,211.1 L368.42,210.6 L368.46,210.1 L368.51,209.6 L368.55,209.1 L368.59,208.6 L368.63,208.1 L368.67,207.6 L368.71,207.1 L368.74,206.6 L368.77,206.1 L368.80,205.6 L368.83,205.1 L368.86,204.6 L368.89,204.1 L368.91,203.6 L368.93,203.1 L368.95,202.6 L368.97,202.1 L368.99,201.6 L369.01,201.1 L369.03,200.6 L369.04,200.1 L369.05,199.6 L369.07,199.1 L369.08,198.6 L369.09,198.1 L369.10,197.6 L369.11,197.1 L369.12,196.6 L369.13,196.1 L369.14,195.6 L369.15,195.1 L369.16,194.6 L369.17,194.1 L369.17,193.6 L369.18,193.1 L369.19,192.6 L369.20,192.1 L369.21,191.6 L369.21,191.1 L369.22,190.6 L369.23,190.1 L369.23,189.6 L369.24,189.1 L369.25,188.6 L369.26,188.1 L369.26,187.6 L369.27,187.1 L369.27,186.6 L369.28,186.1 L369.29,185.6 L369.29,185.1 L369.30,184.6 L369.30,184.1 L369.31,183.6 L369.31,183.1 L369.32,182.6 L369.32,182.1 L369.33,181.6 L369.33,181.1 L369.34,180.6 L369.34,180.1 L369.35,179.6 L369.35,179.1 L369.36,178.6 L369.36,178.1 L369.37,177.6 L369.37,177.1 L369.38,176.6 L369.38,176.1 L369.39,175.6 L369.39,175.1 L369.39,174.6 L369.40,174.1 L369.40,173.6 L369.41,173.1 L369.41,172.6 L369.42,172.1 L369.42,171.6 L369.43,171.1 L369.43,170.6 L369.43,170.1 L369.44,169.6 L369.44,169.1 L369.45,168.6 L369.45,168.1 L369.45,167.6 L369.46,167.1 L369.46,166.6 L369.47,166.1 L369.47,165.6 L369.47,165.1 L369.48,164.6 L369.48,164.1 L369.49,163.6 L369.49,163.1 L369.49,162.6 L369.50,162.1 L369.50,161.6 L369.51,161.1 L369.51,160.6 L369.51,160.1 L369.52,159.6 L369.52,159.1 L369.52,158.6 L369.53,158.1 L369.53,157.6 L369.53,157.1 L369.54,156.6 L369.54,156.1 L369.54,155.6 L369.55,155.1 L369.55,154.6 L369.55,154.1 L369.56,153.6 L369.56,153.1 L369.56,152.6 L369.56,152.1 L369.57,151.6 L369.57,151.1 L369.57,150.6 L369.58,150.1 L369.58,149.6 L369.58,149.1 L369.58,148.6 L369.59,148.1 L369.59,147.6 L369.59,147.1 L369.59,146.6 L369.60,146.1 L369.60,145.6 L369.60,145.1 L369.60,144.6 L369.60,144.1 L369.61,143.6 L369.61,143.1 L369.61,142.6 L369.61,142.1 L369.61,141.6 L369.62,141.1 L369.62,140.6 L369.62,140.1 L369.62,139.6 L369.62,139.1 L369.62,138.6 L369.63,138.1 L369.63,137.6 L369.63,137.1 L369.63,136.6 L369.63,136.1 L369.63,135.6 L369.63,135.1 L369.63,134.6 L369.64,134.1 L369.64,133.6 L369.64,133.1 L369.64,132.6 L369.64,132.1 L369.64,131.6 L369.64,131.1 L369.64,130.6 L369.64,130.1 L369.65,129.6 L369.65,129.1 L369.65,128.6 L369.65,128.1 L369.65,127.6 L369.65,127.1 L369.65,126.6 L369.65,126.1 L369.65,125.6 L369.65,125.1 L369.65,124.6 L369.66,124.1 L369.66,123.6 L369.66,123.1 L369.66,122.6 L369.66,122.1 L369.66,121.6 L369.66,121.1 L369.66,120.6 L369.66,120.1 L369.66,119.6 L369.66,119.1 L369.66,118.6 L369.67,118.1 L369.67,117.6 L369.67,117.1 L369.67,116.6 L369.67,116.1 L369.67,115.6 L369.67,115.1 L369.67,114.6 L369.67,114.1 L369.67,113.6 L369.67,113.1 L369.67,112.6 L369.67,112.1 L369.68,111.6 L369.68,111.1 L369.68,110.6 L369.68,110.1 L369.68,109.6 L369.68,109.1 L369.68,108.6 L369.68,108.1 L369.68,107.6 L369.68,107.1 L369.68,106.6 L369.69,106.1 L369.69,105.6 L369.69,105.1 L369.69,104.6 L369.69,104.1 L369.69,103.6 L369.69,103.1 L369.69,102.6 L369.69,102.1 L369.70,101.6 L369.70,101.1 L369.70,100.6 L369.70,100.1 L369.70,99.6 L369.70,99.1 L369.70,98.6 L369.71,98.1 L369.71,97.6 L369.71,97.1 L369.71,96.6 L369.71,96.1 L369.71,95.6 L369.71,95.1 L369.72,94.6 L369.72,94.1 L369.72,93.6 L369.72,93.1 L369.72,92.6 L369.72,92.1 L369.72,91.6 L369.73,91.1 L369.73,90.6 L369.73,90.1 L369.73,89.6 L369.73,89.1 L369.73,88.6 L369.74,88.1 L369.74,87.6 L369.74,87.1 L369.74,86.6 L369.74,86.1 L369.74,85.6 L369.75,85.1 L369.75,84.6 L369.75,84.1 L369.75,83.6 L369.75,83.1 L369.76,82.6 L369.76,82.1 L369.76,81.6 L369.76,81.1 L369.76,80.6 L369.77,80.1 L369.77,79.6 L369.77,79.1 L369.77,78.6 L369.77,78.1 L369.77,77.6 L369.78,77.1 L369.78,76.6 L369.78,76.1 L369.78,75.6 L369.78,75.1 L369.79,74.6 L369.79,74.1 L369.79,73.6 L369.79,73.1 L369.80,72.6 L369.80,72.1 L369.80,71.6 L369.80,71.1 L369.80,70.6 L369.80,70.1 L369.80,69.6 L369.80,69.1 L369.80,68.6 L369.80,68.1 L369.80,67.6 L369.80,67.1 L369.80,66.6 L369.80,66.1 L369.80,65.6 L369.80,65.1 L369.80,64.6 L369.80,64.1 L369.80,63.6 L369.80,63.1 L369.80,62.6 L369.80,62.1 L369.80,61.6 L369.80,61.1 L369.80,60.6 L369.80,60.1 L369.80,59.6 L369.80,59.1 L369.80,58.6 L369.80,58.1 L369.80,57.6 L369.80,57.1 L369.80,56.6 L369.80,56.1 L369.80,55.6 L369.80,55.1 L369.80,54.6 L369.80,54.1 L369.80,53.6 L369.80,53.1 L369.80,52.6 L369.80,52.1 L369.80,51.6 L369.80,51.1 L369.80,50.6 L369.80,50.1 L369.80,49.6 L369.80,49.1 L369.80,48.6 L369.80,48.1 L369.80,47.6 L369.80,47.1 L369.80,46.6 L369.80,46.1 L369.80,45.6 L369.80,45.1 L369.80,44.6 L369.80,44.1 L369.80,43.6 L369.80,43.1 L369.80,42.6 L369.80,42.1 L369.80,41.6 L369.80,41.1 L369.80,40.6 L369.80,40.1 L369.80,39.6 L369.80,39.1 L369.80,38.6 L369.80,38.1 L369.80,37.6 L369.80,37.1 L369.80,36.6 L369.80,36.1 L369.80,35.6 L369.80,35.1 L369.80,34.6 L369.80,34.1 L369.80,33.6 L370.00,33.1Z" fill="none" stroke="#05B9C3" stroke-width="1.65" stroke-linejoin="round"/><path d="M370.0,33.6V217" stroke="#05B9C3" stroke-width="1.6" fill="none"/><ellipse cx="370.0" cy="59.8" rx="3.4" ry="3.1" fill="#05B9C3"/><ellipse cx="370.0" cy="102.7" rx="3.4" ry="3.1" fill="#05B9C3"/><ellipse cx="370.0" cy="115.5" rx="3.4" ry="3.1" fill="#05B9C3"/><ellipse cx="370.0" cy="123" rx="3.4" ry="3.1" fill="#05B9C3"/><ellipse cx="370.0" cy="156" rx="3.4" ry="3.1" fill="#05B9C3"/><ellipse cx="370.0" cy="160.5" rx="3.4" ry="3.1" fill="#05B9C3"/><ellipse cx="370.0" cy="165" rx="3.4" ry="3.1" fill="#05B9C3"/><ellipse cx="370.0" cy="179.6" rx="3.4" ry="3.1" fill="#05B9C3"/><ellipse cx="370.0" cy="188" rx="3.4" ry="3.1" fill="#05B9C3"/><ellipse cx="370.0" cy="192" rx="3.4" ry="3.1" fill="#05B9C3"/><ellipse cx="370.0" cy="196" rx="3.4" ry="3.1" fill="#05B9C3"/><ellipse cx="370.0" cy="199" rx="3.4" ry="3.1" fill="#05B9C3"/><ellipse cx="370.0" cy="208" rx="3.4" ry="3.1" fill="#05B9C3"/><ellipse cx="370.0" cy="211" rx="3.4" ry="3.1" fill="#05B9C3"/><ellipse cx="370.0" cy="214" rx="3.4" ry="3.1" fill="#05B9C3"/><ellipse cx="370.0" cy="217" rx="3.4" ry="3.1" fill="#05B9C3"/><path d="M370.00,220V289.4M370.00,335.8V381" stroke="#05B9C3" stroke-width="1.65" fill="none"/><rect x="357.7" y="289.4" width="24.6" height="46.4" fill="#fff" stroke="#05B9C3" stroke-width="1.65"/><path d="M357.7,316.7H382.3" stroke="#05B9C3" stroke-width="2.7" fill="none"/></g>
<g><path d="M64.1,14.2V437H428.2" fill="none" stroke="#000" stroke-width="1.75" stroke-linecap="butt" stroke-linejoin="miter"/><path d="M60.1,30.9H64.1" stroke="#333" stroke-width="1.4"/><text x="56.2" y="34.7" text-anchor="end" font-size="10.4" fill="#5e5e5e" textLength="27.5" lengthAdjust="spacingAndGlyphs">2000</text><path d="M60.1,138.7H64.1" stroke="#333" stroke-width="1.4"/><text x="56.2" y="142.5" text-anchor="end" font-size="10.4" fill="#5e5e5e" textLength="27.5" lengthAdjust="spacingAndGlyphs">1500</text><path d="M60.1,246.6H64.1" stroke="#333" stroke-width="1.4"/><text x="56.2" y="250.4" text-anchor="end" font-size="10.4" fill="#5e5e5e" textLength="27.5" lengthAdjust="spacingAndGlyphs">1000</text><path d="M60.1,354.4H64.1" stroke="#333" stroke-width="1.4"/><text x="56.2" y="358.2" text-anchor="end" font-size="10.4" fill="#5e5e5e" textLength="20.5" lengthAdjust="spacingAndGlyphs">500</text><path d="M163.2,437V440.7" stroke="#333" stroke-width="1.4"/><text x="129.8" y="451.7" font-size="11" fill="#5e5e5e" textLength="67.1" lengthAdjust="spacingAndGlyphs">Incongruent</text><path d="M328.6,437V440.7" stroke="#333" stroke-width="1.4"/><text x="298.9" y="451.7" font-size="11" fill="#5e5e5e" textLength="59.7" lengthAdjust="spacingAndGlyphs">Congruent</text><text x="219.8" y="468" font-size="14.2" fill="#000" textLength="52.4" lengthAdjust="spacingAndGlyphs">Gender</text><text transform="translate(21.3,266.7) rotate(-90)" font-size="14.2" fill="#000" textLength="82.9" lengthAdjust="spacingAndGlyphs">Reaction time</text></g>
<g><path d="M170.1,88.6V85H322.1V88.6" fill="none" stroke="#333" stroke-width="1.7" stroke-linejoin="round"/><text x="157.44" y="58.6" font-size="13.2" fill="#111" textLength="12.32" lengthAdjust="spacingAndGlyphs">**</text><text x="316.68" y="58.6" font-size="13.2" fill="#111" textLength="24.65" lengthAdjust="spacingAndGlyphs">****</text><text x="243.32" y="84.3" font-size="13.2" fill="#111" textLength="6.16" lengthAdjust="spacingAndGlyphs">*</text></g>
<g><text x="452.4" y="205.4" font-size="14" fill="#000" textLength="65.2" lengthAdjust="spacingAndGlyphs">Semantic</text><rect x="452.80" y="214.80" width="23.45" height="18.90" fill="#fff" stroke="#FB685C" stroke-width="1.6"/><path d="M464.30,215.50V219.10M464.30,230.25V233.00" stroke="#FB685C" stroke-width="1.5"/><rect x="454.95" y="219.10" width="19.45" height="11.15" fill="#fff" stroke="#FB685C" stroke-width="1.45"/><path d="M454.95,224.70H474.40" stroke="#FB685C" stroke-width="1.5"/><ellipse cx="464.30" cy="224.90" rx="1.5" ry="1.3" fill="#FB685C"/><text x="459.83" y="229.60" font-size="13.5" fill="#FB685C" stroke="#FB685C" stroke-width="0.3" textLength="8.93" lengthAdjust="spacingAndGlyphs">a</text><rect x="452.80" y="236.50" width="23.45" height="19.70" fill="#fff" stroke="#05B9C3" stroke-width="1.6"/><path d="M464.30,237.20V240.95M464.30,251.80V255.50" stroke="#05B9C3" stroke-width="1.5"/><rect x="454.95" y="240.95" width="19.45" height="10.85" fill="#fff" stroke="#05B9C3" stroke-width="1.45"/><path d="M454.95,246.70H474.40" stroke="#05B9C3" stroke-width="1.5"/><ellipse cx="464.30" cy="246.90" rx="1.5" ry="1.3" fill="#05B9C3"/><text x="459.83" y="251.65" font-size="13.5" fill="#05B9C3" stroke="#05B9C3" stroke-width="0.3" textLength="8.93" lengthAdjust="spacingAndGlyphs">a</text><text x="485.8" y="229" font-size="11.2" fill="#000" textLength="54.5" lengthAdjust="spacingAndGlyphs">Unrelated</text><text x="485.8" y="250.6" font-size="11.2" fill="#000" textLength="42.9" lengthAdjust="spacingAndGlyphs">Related</text></g>
</svg></body></html>
